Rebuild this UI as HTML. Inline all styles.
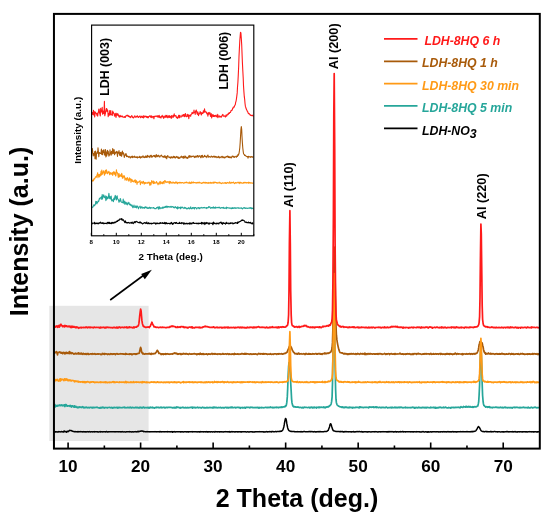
<!DOCTYPE html><html><head><meta charset="utf-8"><style>html,body{margin:0;padding:0;background:#fff;}svg{display:block;}text{font-family:"Liberation Sans",Arial,sans-serif;font-weight:bold;}</style></head><body>
<svg width="550" height="519" viewBox="0 0 550 519">
<rect x="49.3" y="305.8" width="99.3" height="135.2" fill="#E6E6E6"/>
<g clip-path="url(#cm)">
<polyline fill="none" stroke="#000000" stroke-width="1.5" stroke-linejoin="round" points="53.6,431.9 54.0,432.0 54.5,431.9 54.9,431.5 55.3,432.0 55.8,431.9 56.2,431.7 56.6,431.9 57.1,431.9 57.5,431.9 57.9,431.8 58.4,431.9 58.8,431.6 59.3,431.7 59.7,431.7 60.1,431.9 60.6,431.8 61.0,431.7 61.4,431.6 61.9,431.7 62.3,431.8 62.7,431.7 63.2,432.1 63.6,432.0 64.0,431.0 64.5,431.2 64.9,431.7 65.3,431.6 65.8,431.7 66.2,431.7 66.6,432.1 67.1,431.2 67.5,431.3 68.0,431.7 68.4,431.2 68.8,431.1 69.3,430.7 69.7,430.3 70.1,430.6 70.6,430.6 71.0,430.5 71.4,430.7 71.9,431.0 72.3,431.0 72.7,431.3 73.2,431.4 73.6,431.5 74.0,431.5 74.5,431.7 74.9,431.8 75.4,431.7 75.8,431.6 76.2,431.8 76.7,431.7 77.1,431.9 77.5,431.6 78.0,431.9 78.4,431.8 78.8,431.6 79.3,431.7 79.7,431.8 80.1,431.8 80.6,431.6 81.0,431.6 81.4,431.8 81.9,431.7 82.3,431.8 82.7,431.9 83.2,431.6 83.6,431.8 84.1,431.9 84.5,431.8 84.9,431.7 85.4,431.9 85.8,431.8 86.2,431.9 86.7,431.8 87.1,431.6 87.5,431.8 88.0,431.7 88.4,431.9 88.8,431.8 89.3,431.6 89.7,431.7 90.1,431.9 90.6,431.9 91.0,431.7 91.5,431.8 91.9,431.8 92.3,431.8 92.8,431.9 93.2,431.8 93.6,431.8 94.1,431.8 94.5,431.9 94.9,431.6 95.4,431.8 95.8,431.8 96.2,431.7 96.7,431.8 97.1,431.7 97.5,431.9 98.0,431.8 98.4,431.9 98.8,431.9 99.3,431.8 99.7,431.7 100.2,431.6 100.6,432.0 101.0,431.8 101.5,431.7 101.9,431.8 102.3,431.8 102.8,431.9 103.2,431.8 103.6,431.8 104.1,431.7 104.5,431.8 104.9,431.7 105.4,431.9 105.8,431.9 106.2,431.6 106.7,431.5 107.1,431.9 107.6,432.1 108.0,431.7 108.4,431.7 108.9,431.9 109.3,431.7 109.7,431.7 110.2,431.8 110.6,431.8 111.0,431.8 111.5,431.8 111.9,431.8 112.3,431.7 112.8,431.8 113.2,431.7 113.6,431.8 114.1,431.7 114.5,431.7 114.9,431.9 115.4,431.8 115.8,431.8 116.3,431.8 116.7,431.8 117.1,431.8 117.6,431.8 118.0,431.8 118.4,431.7 118.9,431.9 119.3,431.7 119.7,431.7 120.2,431.7 120.6,431.8 121.0,432.0 121.5,431.7 121.9,431.8 122.3,431.6 122.8,431.8 123.2,431.9 123.7,431.8 124.1,431.7 124.5,431.8 125.0,431.9 125.4,431.9 125.8,432.0 126.3,431.8 126.7,431.7 127.1,431.8 127.6,431.8 128.0,431.8 128.4,431.8 128.9,431.8 129.3,431.6 129.7,431.9 130.2,431.7 130.6,431.7 131.0,431.9 131.5,431.9 131.9,431.8 132.4,431.8 132.8,431.7 133.2,432.1 133.7,431.9 134.1,431.7 134.5,431.7 135.0,431.8 135.4,431.6 135.8,431.8 136.3,431.7 136.7,431.9 137.1,431.8 137.6,431.4 138.0,431.7 138.4,431.5 138.9,431.7 139.3,431.5 139.7,431.4 140.2,431.1 140.6,431.3 141.1,431.2 141.5,430.9 141.9,431.1 142.4,431.1 142.8,431.3 143.2,431.3 143.7,431.7 144.1,431.5 144.5,431.6 145.0,431.7 145.4,431.7 145.8,431.7 146.3,431.7 146.7,431.7 147.1,431.6 147.6,431.7 148.0,431.8 148.5,431.7 148.9,431.8 149.3,431.7 149.8,431.9 150.2,431.8 150.6,431.8 151.1,431.7 151.5,431.7 151.9,431.7 152.4,431.8 152.8,431.7 153.2,431.7 153.7,431.8 154.1,431.8 154.5,431.8 155.0,431.6 155.4,431.8 155.8,431.8 156.3,431.7 156.7,431.9 157.2,431.7 157.6,431.7 158.0,431.8 158.5,431.8 158.9,431.8 159.3,431.6 159.8,432.0 160.2,431.7 160.6,431.6 161.1,431.9 161.5,431.8 161.9,431.8 162.4,431.8 162.8,431.8 163.2,431.8 163.7,431.7 164.1,431.9 164.6,431.7 165.0,431.7 165.4,431.8 165.9,431.8 166.3,431.8 166.7,431.7 167.2,431.9 167.6,431.6 168.0,431.7 168.5,431.8 168.9,431.7 169.3,431.8 169.8,431.8 170.2,431.9 170.6,431.7 171.1,431.7 171.5,431.8 171.9,431.6 172.4,432.1 172.8,431.7 173.3,431.7 173.7,431.9 174.1,431.8 174.6,431.6 175.0,431.9 175.4,431.9 175.9,431.8 176.3,431.8 176.7,431.8 177.2,431.7 177.6,431.8 178.0,431.8 178.5,431.7 178.9,431.7 179.3,431.8 179.8,431.7 180.2,431.9 180.7,431.8 181.1,431.9 181.5,431.8 182.0,431.8 182.4,431.7 182.8,431.9 183.3,432.0 183.7,431.8 184.1,431.7 184.6,431.8 185.0,431.7 185.4,431.7 185.9,431.8 186.3,431.8 186.7,431.9 187.2,431.8 187.6,431.8 188.0,431.9 188.5,431.8 188.9,431.9 189.4,431.7 189.8,431.7 190.2,431.8 190.7,431.8 191.1,431.7 191.5,431.8 192.0,431.6 192.4,431.9 192.8,431.8 193.3,431.7 193.7,431.7 194.1,431.8 194.6,431.8 195.0,431.7 195.4,431.7 195.9,431.8 196.3,431.7 196.8,431.9 197.2,431.9 197.6,431.8 198.1,431.8 198.5,431.7 198.9,431.9 199.4,431.8 199.8,431.8 200.2,432.0 200.7,431.6 201.1,431.8 201.5,431.7 202.0,431.9 202.4,431.7 202.8,431.7 203.3,431.8 203.7,431.9 204.1,431.8 204.6,431.7 205.0,431.7 205.5,431.9 205.9,431.8 206.3,431.6 206.8,431.9 207.2,431.8 207.6,431.9 208.1,431.8 208.5,431.9 208.9,431.7 209.4,431.9 209.8,431.7 210.2,431.9 210.7,431.9 211.1,431.7 211.5,431.8 212.0,431.8 212.4,431.9 212.8,431.9 213.3,431.7 213.7,431.8 214.2,431.9 214.6,432.0 215.0,431.6 215.5,431.7 215.9,431.9 216.3,431.7 216.8,431.7 217.2,431.8 217.6,431.9 218.1,431.7 218.5,431.8 218.9,431.8 219.4,431.9 219.8,431.8 220.2,431.9 220.7,431.7 221.1,431.8 221.6,431.8 222.0,431.9 222.4,431.9 222.9,431.7 223.3,431.9 223.7,431.9 224.2,431.8 224.6,431.8 225.0,431.8 225.5,431.6 225.9,431.8 226.3,431.8 226.8,431.7 227.2,431.9 227.6,431.7 228.1,431.7 228.5,431.7 228.9,432.0 229.4,431.6 229.8,431.9 230.3,431.9 230.7,431.8 231.1,431.9 231.6,431.7 232.0,431.6 232.4,431.9 232.9,431.7 233.3,431.8 233.7,431.7 234.2,431.9 234.6,431.9 235.0,431.7 235.5,431.9 235.9,431.8 236.3,431.8 236.8,431.8 237.2,431.8 237.7,431.9 238.1,431.8 238.5,431.8 239.0,431.9 239.4,431.7 239.8,431.8 240.3,431.8 240.7,431.9 241.1,431.7 241.6,432.0 242.0,431.8 242.4,431.8 242.9,431.7 243.3,431.8 243.7,431.8 244.2,431.7 244.6,431.7 245.0,431.7 245.5,431.7 245.9,431.9 246.4,431.9 246.8,431.9 247.2,431.8 247.7,431.7 248.1,431.8 248.5,431.9 249.0,432.0 249.4,431.9 249.8,431.8 250.3,431.8 250.7,431.7 251.1,431.7 251.6,431.8 252.0,431.8 252.4,432.0 252.9,431.8 253.3,431.9 253.8,432.0 254.2,431.8 254.6,431.9 255.1,431.9 255.5,431.7 255.9,431.8 256.4,431.8 256.8,431.8 257.2,431.8 257.7,431.8 258.1,431.8 258.5,431.7 259.0,431.8 259.4,431.6 259.8,431.8 260.3,431.8 260.7,431.8 261.1,431.8 261.6,431.8 262.0,431.7 262.5,431.7 262.9,431.8 263.3,431.9 263.8,431.8 264.2,432.0 264.6,431.8 265.1,431.9 265.5,431.9 265.9,431.7 266.4,431.7 266.8,431.6 267.2,431.8 267.7,431.9 268.1,431.8 268.5,431.8 269.0,431.7 269.4,431.8 269.9,431.5 270.3,431.8 270.7,431.7 271.2,431.6 271.6,431.9 272.0,431.6 272.5,431.6 272.9,431.6 273.3,431.8 273.8,431.6 274.2,431.8 274.6,431.7 275.1,431.7 275.5,431.5 275.9,431.6 276.4,431.8 276.8,431.5 277.2,431.5 277.7,431.6 278.1,431.6 278.6,431.6 279.0,431.6 279.4,431.3 279.9,431.5 280.3,431.4 280.7,431.1 281.2,431.3 281.6,431.2 282.0,430.7 282.5,430.4 282.9,429.9 283.3,428.6 283.8,427.0 284.2,424.9 284.6,422.4 285.1,419.9 285.5,418.5 286.0,418.8 286.4,420.6 286.8,423.4 287.3,426.0 287.7,427.9 288.1,429.2 288.6,430.0 289.0,430.6 289.4,430.8 289.9,431.1 290.3,431.2 290.7,431.4 291.2,431.4 291.6,431.3 292.0,431.5 292.5,431.6 292.9,431.4 293.3,431.5 293.8,431.5 294.2,431.5 294.7,431.7 295.1,431.8 295.5,431.7 296.0,431.7 296.4,431.7 296.8,431.7 297.3,431.6 297.7,431.8 298.1,431.8 298.6,431.8 299.0,431.7 299.4,431.7 299.9,431.7 300.3,431.9 300.7,431.7 301.2,431.5 301.6,431.8 302.0,431.9 302.5,431.8 302.9,431.8 303.4,431.7 303.8,431.5 304.2,431.6 304.7,431.6 305.1,431.7 305.5,431.8 306.0,431.8 306.4,431.7 306.8,431.8 307.3,431.7 307.7,431.7 308.1,431.8 308.6,431.7 309.0,431.5 309.4,431.6 309.9,431.8 310.3,431.4 310.8,431.7 311.2,431.7 311.6,431.6 312.1,431.6 312.5,431.7 312.9,431.7 313.4,431.9 313.8,431.8 314.2,431.6 314.7,431.7 315.1,431.8 315.5,431.9 316.0,431.8 316.4,431.8 316.8,431.9 317.3,431.7 317.7,431.7 318.1,431.6 318.6,431.7 319.0,431.9 319.5,431.6 319.9,431.7 320.3,431.6 320.8,431.7 321.2,431.8 321.6,431.7 322.1,431.8 322.5,431.7 322.9,431.7 323.4,431.8 323.8,431.7 324.2,431.6 324.7,431.5 325.1,431.4 325.5,431.5 326.0,431.4 326.4,431.6 326.9,431.4 327.3,431.0 327.7,430.7 328.2,430.4 328.6,429.2 329.0,428.2 329.5,426.9 329.9,425.1 330.3,424.0 330.8,423.8 331.2,424.8 331.6,426.3 332.1,427.8 332.5,429.1 332.9,430.0 333.4,430.7 333.8,430.9 334.2,431.0 334.7,431.1 335.1,431.2 335.6,431.4 336.0,431.6 336.4,431.6 336.9,431.5 337.3,431.5 337.7,431.6 338.2,431.6 338.6,431.6 339.0,431.5 339.5,431.6 339.9,431.8 340.3,431.5 340.8,431.7 341.2,431.5 341.6,431.7 342.1,431.7 342.5,431.5 343.0,431.8 343.4,431.9 343.8,431.8 344.3,431.9 344.7,431.7 345.1,431.5 345.6,431.8 346.0,431.7 346.4,431.6 346.9,431.8 347.3,431.8 347.7,431.7 348.2,431.9 348.6,431.7 349.0,431.8 349.5,431.7 349.9,431.8 350.3,431.7 350.8,431.9 351.2,431.8 351.7,431.9 352.1,431.7 352.5,431.7 353.0,431.9 353.4,431.5 353.8,431.7 354.3,431.9 354.7,431.8 355.1,431.9 355.6,431.8 356.0,431.8 356.4,431.7 356.9,431.6 357.3,431.6 357.7,431.7 358.2,431.7 358.6,431.7 359.1,431.4 359.5,431.6 359.9,431.7 360.4,431.8 360.8,431.7 361.2,431.7 361.7,431.6 362.1,432.0 362.5,431.7 363.0,432.0 363.4,431.9 363.8,431.8 364.3,431.7 364.7,431.8 365.1,431.7 365.6,431.8 366.0,431.8 366.4,431.8 366.9,431.9 367.3,432.0 367.8,431.8 368.2,431.9 368.6,431.7 369.1,431.7 369.5,431.7 369.9,431.7 370.4,431.9 370.8,431.9 371.2,431.9 371.7,431.8 372.1,431.8 372.5,431.7 373.0,431.7 373.4,431.8 373.8,431.8 374.3,431.7 374.7,431.9 375.1,431.6 375.6,431.8 376.0,431.7 376.5,431.7 376.9,431.7 377.3,431.9 377.8,431.9 378.2,431.9 378.6,431.8 379.1,431.7 379.5,431.8 379.9,431.7 380.4,431.8 380.8,431.9 381.2,431.8 381.7,431.7 382.1,431.8 382.5,431.8 383.0,431.6 383.4,431.8 383.9,431.8 384.3,431.7 384.7,431.8 385.2,431.8 385.6,431.7 386.0,431.7 386.5,431.9 386.9,431.8 387.3,432.0 387.8,431.7 388.2,431.6 388.6,431.9 389.1,431.9 389.5,431.7 389.9,431.6 390.4,431.8 390.8,431.6 391.2,431.8 391.7,431.6 392.1,431.8 392.6,431.6 393.0,431.8 393.4,431.9 393.9,431.8 394.3,431.9 394.7,431.7 395.2,431.7 395.6,431.6 396.0,431.9 396.5,431.8 396.9,432.0 397.3,431.7 397.8,431.8 398.2,431.8 398.6,431.9 399.1,432.0 399.5,431.7 400.0,431.7 400.4,431.6 400.8,431.9 401.3,431.8 401.7,431.7 402.1,431.8 402.6,431.5 403.0,431.6 403.4,431.9 403.9,431.8 404.3,431.8 404.7,431.7 405.2,431.8 405.6,432.0 406.0,431.7 406.5,431.8 406.9,431.7 407.3,431.8 407.8,431.8 408.2,431.8 408.7,431.7 409.1,431.8 409.5,431.7 410.0,431.8 410.4,431.8 410.8,431.9 411.3,431.7 411.7,431.8 412.1,431.9 412.6,431.8 413.0,431.8 413.4,431.9 413.9,431.8 414.3,431.8 414.7,431.8 415.2,431.7 415.6,431.8 416.1,431.9 416.5,431.8 416.9,431.6 417.4,431.8 417.8,431.7 418.2,431.8 418.7,431.8 419.1,431.7 419.5,431.9 420.0,431.8 420.4,431.9 420.8,431.9 421.3,431.9 421.7,431.9 422.1,431.6 422.6,431.8 423.0,431.6 423.4,431.7 423.9,431.9 424.3,431.9 424.8,431.9 425.2,431.8 425.6,431.8 426.1,431.8 426.5,431.9 426.9,432.0 427.4,431.8 427.8,432.2 428.2,431.8 428.7,431.8 429.1,431.9 429.5,431.9 430.0,431.8 430.4,431.7 430.8,431.9 431.3,431.8 431.7,431.9 432.2,431.9 432.6,431.7 433.0,431.7 433.5,431.7 433.9,431.8 434.3,431.8 434.8,431.8 435.2,431.7 435.6,431.8 436.1,431.9 436.5,431.7 436.9,431.8 437.4,431.8 437.8,431.8 438.2,431.8 438.7,432.0 439.1,431.9 439.5,431.9 440.0,431.7 440.4,432.0 440.9,431.8 441.3,431.7 441.7,431.8 442.2,431.7 442.6,432.0 443.0,431.8 443.5,431.8 443.9,431.6 444.3,431.9 444.8,431.7 445.2,431.7 445.6,431.9 446.1,431.7 446.5,431.9 446.9,431.9 447.4,431.6 447.8,431.8 448.2,431.6 448.7,431.8 449.1,431.9 449.6,431.7 450.0,432.0 450.4,431.8 450.9,431.7 451.3,431.8 451.7,431.9 452.2,431.6 452.6,431.8 453.0,431.6 453.5,431.9 453.9,431.8 454.3,431.7 454.8,431.9 455.2,431.7 455.6,431.7 456.1,432.0 456.5,431.8 457.0,431.9 457.4,431.8 457.8,431.7 458.3,431.8 458.7,431.8 459.1,431.7 459.6,431.7 460.0,431.7 460.4,431.6 460.9,431.8 461.3,431.8 461.7,431.8 462.2,431.6 462.6,431.8 463.0,431.8 463.5,431.6 463.9,431.8 464.3,431.8 464.8,431.8 465.2,431.8 465.7,431.8 466.1,431.8 466.5,431.7 467.0,431.5 467.4,431.7 467.8,431.8 468.3,431.7 468.7,431.8 469.1,431.8 469.6,431.7 470.0,431.9 470.4,431.6 470.9,431.8 471.3,431.6 471.7,431.6 472.2,431.7 472.6,431.5 473.1,431.7 473.5,431.4 473.9,431.5 474.4,431.3 474.8,431.3 475.2,431.1 475.7,430.8 476.1,430.5 476.5,429.7 477.0,429.0 477.4,428.3 477.8,427.4 478.3,426.7 478.7,426.6 479.1,427.2 479.6,427.7 480.0,428.7 480.4,429.5 480.9,430.4 481.3,430.8 481.8,431.2 482.2,431.4 482.6,431.4 483.1,431.4 483.5,431.4 483.9,431.8 484.4,431.7 484.8,431.7 485.2,431.6 485.7,431.6 486.1,431.6 486.5,431.7 487.0,431.5 487.4,431.7 487.8,431.7 488.3,431.8 488.7,431.8 489.2,431.8 489.6,431.7 490.0,431.8 490.5,431.5 490.9,431.6 491.3,431.9 491.8,431.6 492.2,431.7 492.6,431.8 493.1,431.7 493.5,431.8 493.9,431.6 494.4,431.6 494.8,431.6 495.2,431.6 495.7,431.8 496.1,431.7 496.5,431.8 497.0,431.7 497.4,432.0 497.9,431.8 498.3,431.8 498.7,431.8 499.2,431.8 499.6,431.7 500.0,431.8 500.5,431.9 500.9,431.9 501.3,431.9 501.8,431.7 502.2,431.7 502.6,432.0 503.1,431.8 503.5,431.8 503.9,431.9 504.4,431.9 504.8,431.7 505.3,431.7 505.7,431.7 506.1,431.8 506.6,431.5 507.0,431.8 507.4,431.5 507.9,431.8 508.3,431.8 508.7,431.9 509.2,431.7 509.6,431.9 510.0,431.7 510.5,431.7 510.9,431.7 511.3,431.7 511.8,431.8 512.2,431.9 512.6,431.6 513.1,431.7 513.5,431.9 514.0,431.8 514.4,431.8 514.8,431.6 515.3,431.9 515.7,431.6 516.1,431.8 516.6,431.9 517.0,432.0 517.4,431.8 517.9,431.9 518.3,431.7 518.7,431.7 519.2,431.9 519.6,431.8 520.0,431.8 520.5,431.7 520.9,431.8 521.4,431.9 521.8,431.7 522.2,431.7 522.7,432.0 523.1,431.8 523.5,431.8 524.0,431.7 524.4,431.7 524.8,431.8 525.3,431.9 525.7,431.7 526.1,432.0 526.6,431.7 527.0,431.8 527.4,431.9 527.9,431.8 528.3,431.7 528.7,431.8 529.2,431.8 529.6,431.6 530.1,431.8 530.5,431.8 530.9,431.8 531.4,431.9 531.8,431.7 532.2,431.8 532.7,431.8 533.1,431.9 533.5,431.8 534.0,431.9 534.4,431.7 534.8,431.9 535.3,431.7 535.7,431.8 536.1,431.8 536.6,432.0 537.0,431.9 537.4,431.8 537.9,431.9 538.3,431.8 538.8,431.7 539.2,431.8"/>
<polyline fill="none" stroke="#26A69A" stroke-width="1.7" stroke-linejoin="round" points="53.6,406.2 54.0,405.8 54.5,405.8 54.9,404.6 55.3,406.8 55.8,406.4 56.2,405.6 56.6,406.1 57.1,405.8 57.5,405.3 57.9,406.1 58.4,405.3 58.8,405.3 59.3,405.0 59.7,405.6 60.1,405.3 60.6,405.6 61.0,405.0 61.4,405.4 61.9,404.8 62.3,405.8 62.7,405.4 63.2,405.5 63.6,405.6 64.0,404.8 64.5,405.8 64.9,406.5 65.3,404.5 65.8,404.5 66.2,404.7 66.6,406.0 67.1,405.6 67.5,406.2 68.0,406.0 68.4,405.8 68.8,405.9 69.3,405.8 69.7,406.3 70.1,405.4 70.6,405.8 71.0,406.2 71.4,407.0 71.9,405.9 72.3,405.8 72.7,406.1 73.2,406.8 73.6,406.4 74.0,407.1 74.5,405.9 74.9,407.1 75.4,407.1 75.8,406.3 76.2,406.9 76.7,407.3 77.1,407.0 77.5,407.3 78.0,407.8 78.4,407.2 78.8,407.0 79.3,406.9 79.7,407.4 80.1,407.2 80.6,407.2 81.0,407.2 81.4,407.5 81.9,407.0 82.3,406.9 82.7,406.7 83.2,407.7 83.6,407.4 84.1,407.8 84.5,407.5 84.9,407.3 85.4,407.6 85.8,407.5 86.2,407.2 86.7,407.3 87.1,407.9 87.5,407.6 88.0,407.6 88.4,407.5 88.8,407.4 89.3,407.8 89.7,407.5 90.1,407.4 90.6,407.5 91.0,407.4 91.5,407.6 91.9,407.8 92.3,407.4 92.8,407.9 93.2,407.4 93.6,407.6 94.1,407.4 94.5,407.5 94.9,407.6 95.4,407.5 95.8,407.4 96.2,407.4 96.7,407.4 97.1,407.2 97.5,407.5 98.0,407.7 98.4,407.8 98.8,407.7 99.3,408.1 99.7,407.7 100.2,407.5 100.6,408.0 101.0,407.4 101.5,407.8 101.9,407.4 102.3,407.7 102.8,407.2 103.2,407.8 103.6,407.6 104.1,407.4 104.5,408.0 104.9,407.8 105.4,407.6 105.8,407.4 106.2,407.6 106.7,407.6 107.1,407.8 107.6,407.8 108.0,407.5 108.4,407.5 108.9,407.5 109.3,407.3 109.7,407.5 110.2,407.6 110.6,407.8 111.0,407.9 111.5,407.4 111.9,407.7 112.3,407.5 112.8,408.1 113.2,407.6 113.6,407.7 114.1,407.4 114.5,407.4 114.9,407.6 115.4,407.5 115.8,407.7 116.3,407.3 116.7,407.7 117.1,407.4 117.6,408.0 118.0,407.5 118.4,407.8 118.9,407.3 119.3,407.7 119.7,407.4 120.2,407.5 120.6,407.6 121.0,407.5 121.5,407.7 121.9,407.8 122.3,407.7 122.8,407.6 123.2,407.3 123.7,407.4 124.1,407.6 124.5,407.1 125.0,407.8 125.4,407.5 125.8,407.5 126.3,407.8 126.7,407.7 127.1,407.6 127.6,407.4 128.0,407.7 128.4,407.7 128.9,407.4 129.3,407.8 129.7,407.7 130.2,407.2 130.6,407.6 131.0,407.3 131.5,407.8 131.9,407.8 132.4,407.4 132.8,407.4 133.2,407.6 133.7,407.5 134.1,407.9 134.5,407.8 135.0,407.5 135.4,407.7 135.8,407.2 136.3,407.7 136.7,407.8 137.1,407.6 137.6,407.4 138.0,407.7 138.4,408.0 138.9,407.6 139.3,407.4 139.7,407.9 140.2,407.2 140.6,407.7 141.1,407.5 141.5,407.8 141.9,407.4 142.4,407.9 142.8,407.7 143.2,407.2 143.7,407.2 144.1,407.5 144.5,407.9 145.0,407.6 145.4,407.6 145.8,407.5 146.3,407.8 146.7,407.7 147.1,407.7 147.6,407.4 148.0,407.9 148.5,407.9 148.9,407.3 149.3,408.1 149.8,407.8 150.2,407.5 150.6,407.2 151.1,407.7 151.5,407.7 151.9,407.5 152.4,407.2 152.8,407.8 153.2,407.5 153.7,407.5 154.1,408.2 154.5,408.1 155.0,407.8 155.4,407.5 155.8,407.7 156.3,407.1 156.7,407.6 157.2,407.4 157.6,407.3 158.0,407.2 158.5,407.7 158.9,407.6 159.3,407.6 159.8,407.8 160.2,407.4 160.6,407.3 161.1,407.2 161.5,407.5 161.9,407.8 162.4,407.6 162.8,407.7 163.2,407.3 163.7,407.5 164.1,407.4 164.6,407.3 165.0,408.0 165.4,407.8 165.9,407.4 166.3,407.4 166.7,407.6 167.2,407.3 167.6,407.7 168.0,407.3 168.5,407.5 168.9,407.4 169.3,407.5 169.8,407.3 170.2,407.3 170.6,407.4 171.1,407.4 171.5,407.5 171.9,407.6 172.4,407.9 172.8,407.8 173.3,407.5 173.7,407.8 174.1,407.4 174.6,407.9 175.0,407.7 175.4,407.3 175.9,407.8 176.3,407.8 176.7,407.0 177.2,407.4 177.6,407.5 178.0,407.2 178.5,407.4 178.9,407.4 179.3,407.7 179.8,407.7 180.2,408.2 180.7,407.5 181.1,407.8 181.5,407.6 182.0,407.7 182.4,407.3 182.8,407.2 183.3,407.4 183.7,407.8 184.1,407.9 184.6,407.7 185.0,407.7 185.4,407.4 185.9,407.9 186.3,407.9 186.7,407.5 187.2,407.6 187.6,407.4 188.0,407.9 188.5,407.7 188.9,407.6 189.4,407.7 189.8,407.7 190.2,407.5 190.7,407.3 191.1,407.3 191.5,407.2 192.0,407.7 192.4,408.1 192.8,407.2 193.3,407.6 193.7,407.7 194.1,407.4 194.6,407.6 195.0,407.4 195.4,407.9 195.9,407.5 196.3,407.6 196.8,407.7 197.2,407.5 197.6,407.2 198.1,407.5 198.5,407.8 198.9,407.6 199.4,407.6 199.8,407.4 200.2,407.6 200.7,407.8 201.1,407.6 201.5,408.0 202.0,407.5 202.4,407.4 202.8,407.2 203.3,407.8 203.7,407.6 204.1,407.8 204.6,407.7 205.0,408.0 205.5,407.9 205.9,407.5 206.3,407.7 206.8,407.8 207.2,407.3 207.6,407.9 208.1,407.9 208.5,407.8 208.9,407.5 209.4,407.7 209.8,407.3 210.2,407.6 210.7,407.5 211.1,407.6 211.5,407.5 212.0,407.7 212.4,407.9 212.8,407.3 213.3,407.8 213.7,407.2 214.2,407.1 214.6,407.6 215.0,407.6 215.5,407.7 215.9,407.2 216.3,407.6 216.8,407.6 217.2,407.9 217.6,407.6 218.1,407.7 218.5,407.4 218.9,407.6 219.4,407.5 219.8,407.7 220.2,407.4 220.7,407.4 221.1,407.7 221.6,408.0 222.0,407.7 222.4,407.7 222.9,407.5 223.3,407.8 223.7,407.7 224.2,408.0 224.6,407.7 225.0,407.4 225.5,407.5 225.9,407.4 226.3,407.3 226.8,407.9 227.2,407.8 227.6,407.3 228.1,408.0 228.5,407.6 228.9,407.4 229.4,407.7 229.8,407.6 230.3,407.4 230.7,407.2 231.1,407.6 231.6,407.7 232.0,407.0 232.4,407.7 232.9,407.7 233.3,407.5 233.7,407.6 234.2,407.5 234.6,407.4 235.0,407.5 235.5,407.9 235.9,407.3 236.3,407.6 236.8,407.6 237.2,407.4 237.7,407.5 238.1,407.3 238.5,407.4 239.0,407.6 239.4,407.7 239.8,407.4 240.3,408.3 240.7,407.5 241.1,407.6 241.6,407.5 242.0,407.5 242.4,407.9 242.9,407.5 243.3,407.9 243.7,407.8 244.2,407.4 244.6,407.8 245.0,407.4 245.5,408.2 245.9,407.5 246.4,407.4 246.8,407.2 247.2,407.3 247.7,407.5 248.1,407.4 248.5,407.3 249.0,407.4 249.4,407.5 249.8,407.9 250.3,407.2 250.7,407.5 251.1,407.4 251.6,407.2 252.0,407.3 252.4,407.4 252.9,407.7 253.3,407.5 253.8,407.5 254.2,407.7 254.6,407.6 255.1,407.5 255.5,407.7 255.9,407.4 256.4,407.7 256.8,407.7 257.2,407.5 257.7,407.3 258.1,407.9 258.5,407.6 259.0,408.2 259.4,407.4 259.8,407.8 260.3,407.5 260.7,407.6 261.1,407.8 261.6,407.4 262.0,407.5 262.5,407.6 262.9,407.6 263.3,407.7 263.8,407.8 264.2,407.7 264.6,407.6 265.1,407.5 265.5,407.3 265.9,407.4 266.4,407.4 266.8,407.7 267.2,407.5 267.7,407.3 268.1,407.7 268.5,407.4 269.0,407.4 269.4,407.5 269.9,407.6 270.3,407.0 270.7,407.3 271.2,407.6 271.6,407.4 272.0,407.3 272.5,407.4 272.9,407.8 273.3,407.4 273.8,407.7 274.2,407.7 274.6,407.4 275.1,407.6 275.5,407.4 275.9,407.3 276.4,407.2 276.8,407.7 277.2,407.4 277.7,407.3 278.1,407.2 278.6,407.8 279.0,407.6 279.4,407.4 279.9,407.2 280.3,407.0 280.7,407.4 281.2,407.4 281.6,406.9 282.0,407.5 282.5,407.3 282.9,406.9 283.3,406.9 283.8,406.9 284.2,406.9 284.6,406.7 285.1,406.1 285.5,406.5 286.0,405.8 286.4,404.9 286.8,402.4 287.3,396.9 287.7,388.2 288.1,376.7 288.6,366.6 289.0,362.6 289.4,364.0 289.9,367.4 290.3,373.2 290.7,382.5 291.2,391.6 291.6,399.1 292.0,402.9 292.5,404.9 292.9,405.9 293.3,406.4 293.8,407.0 294.2,406.8 294.7,406.6 295.1,407.0 295.5,406.9 296.0,407.2 296.4,407.0 296.8,407.1 297.3,407.1 297.7,407.2 298.1,406.9 298.6,407.2 299.0,407.4 299.4,407.6 299.9,407.3 300.3,407.3 300.7,407.5 301.2,407.5 301.6,407.8 302.0,407.6 302.5,407.4 302.9,407.8 303.4,407.8 303.8,407.4 304.2,407.5 304.7,407.1 305.1,407.4 305.5,407.3 306.0,407.4 306.4,407.4 306.8,407.5 307.3,407.5 307.7,407.6 308.1,407.5 308.6,407.4 309.0,407.2 309.4,407.8 309.9,407.8 310.3,407.4 310.8,407.6 311.2,407.2 311.6,407.2 312.1,407.4 312.5,407.8 312.9,407.3 313.4,407.3 313.8,407.8 314.2,407.1 314.7,407.6 315.1,407.6 315.5,407.4 316.0,407.5 316.4,408.0 316.8,407.2 317.3,407.4 317.7,407.4 318.1,407.3 318.6,407.1 319.0,407.8 319.5,407.5 319.9,407.0 320.3,407.3 320.8,407.5 321.2,407.5 321.6,407.1 322.1,407.3 322.5,407.4 322.9,407.4 323.4,407.4 323.8,406.9 324.2,407.7 324.7,407.3 325.1,407.6 325.5,407.8 326.0,407.1 326.4,406.8 326.9,407.2 327.3,406.9 327.7,406.7 328.2,406.5 328.6,406.9 329.0,406.3 329.5,405.8 329.9,405.7 330.3,405.1 330.8,404.8 331.2,403.7 331.6,401.7 332.1,396.9 332.5,382.9 332.9,353.8 333.4,310.4 333.8,275.4 334.2,283.5 334.7,325.3 335.1,365.6 335.6,389.1 336.0,399.2 336.4,402.7 336.9,404.3 337.3,405.1 337.7,405.4 338.2,405.8 338.6,406.2 339.0,406.3 339.5,406.6 339.9,406.8 340.3,406.8 340.8,406.8 341.2,406.8 341.6,407.4 342.1,407.3 342.5,406.9 343.0,407.0 343.4,407.6 343.8,407.6 344.3,407.3 344.7,407.6 345.1,407.0 345.6,407.3 346.0,407.5 346.4,407.0 346.9,407.2 347.3,407.6 347.7,407.7 348.2,407.3 348.6,407.5 349.0,407.8 349.5,407.3 349.9,407.1 350.3,407.4 350.8,407.4 351.2,407.7 351.7,407.5 352.1,407.3 352.5,408.0 353.0,407.3 353.4,407.6 353.8,407.6 354.3,407.6 354.7,407.5 355.1,407.6 355.6,407.4 356.0,407.1 356.4,407.4 356.9,407.4 357.3,407.4 357.7,407.5 358.2,407.3 358.6,407.7 359.1,407.8 359.5,406.9 359.9,407.4 360.4,407.3 360.8,406.8 361.2,407.5 361.7,407.3 362.1,407.3 362.5,407.3 363.0,407.6 363.4,407.7 363.8,407.4 364.3,407.5 364.7,407.3 365.1,407.4 365.6,407.2 366.0,407.3 366.4,407.2 366.9,407.4 367.3,407.5 367.8,407.4 368.2,407.6 368.6,407.9 369.1,406.8 369.5,407.3 369.9,407.2 370.4,407.2 370.8,407.0 371.2,407.3 371.7,407.2 372.1,407.1 372.5,407.2 373.0,407.1 373.4,406.8 373.8,407.5 374.3,407.2 374.7,407.1 375.1,407.4 375.6,407.1 376.0,406.8 376.5,407.5 376.9,406.9 377.3,407.3 377.8,407.4 378.2,407.6 378.6,407.6 379.1,407.4 379.5,407.2 379.9,407.3 380.4,407.6 380.8,407.8 381.2,407.5 381.7,407.3 382.1,407.6 382.5,407.3 383.0,407.3 383.4,407.4 383.9,407.6 384.3,407.5 384.7,407.7 385.2,407.7 385.6,407.6 386.0,407.0 386.5,407.1 386.9,407.5 387.3,407.5 387.8,408.0 388.2,407.5 388.6,407.5 389.1,407.7 389.5,407.7 389.9,407.5 390.4,407.6 390.8,407.3 391.2,407.3 391.7,407.8 392.1,407.2 392.6,407.7 393.0,407.7 393.4,407.7 393.9,407.7 394.3,407.7 394.7,407.1 395.2,407.3 395.6,407.4 396.0,407.8 396.5,407.3 396.9,407.4 397.3,407.5 397.8,407.8 398.2,407.2 398.6,407.3 399.1,407.7 399.5,407.1 400.0,407.6 400.4,407.5 400.8,407.2 401.3,407.5 401.7,407.3 402.1,407.6 402.6,407.6 403.0,407.9 403.4,407.6 403.9,407.6 404.3,407.4 404.7,407.6 405.2,407.8 405.6,407.1 406.0,407.7 406.5,407.5 406.9,407.6 407.3,407.6 407.8,407.8 408.2,407.6 408.7,407.5 409.1,407.6 409.5,407.6 410.0,407.5 410.4,407.6 410.8,407.8 411.3,407.6 411.7,407.6 412.1,407.3 412.6,407.5 413.0,407.2 413.4,407.7 413.9,407.4 414.3,407.9 414.7,408.2 415.2,407.5 415.6,407.9 416.1,407.7 416.5,407.5 416.9,407.4 417.4,407.7 417.8,407.9 418.2,407.7 418.7,407.2 419.1,407.3 419.5,407.5 420.0,407.9 420.4,407.6 420.8,407.7 421.3,407.8 421.7,407.5 422.1,407.6 422.6,407.5 423.0,407.2 423.4,407.7 423.9,407.7 424.3,407.8 424.8,407.3 425.2,407.4 425.6,407.8 426.1,407.6 426.5,407.9 426.9,407.4 427.4,407.6 427.8,407.4 428.2,407.6 428.7,407.5 429.1,407.7 429.5,407.8 430.0,407.7 430.4,407.2 430.8,407.8 431.3,407.7 431.7,407.3 432.2,407.4 432.6,407.6 433.0,407.7 433.5,407.5 433.9,407.2 434.3,407.6 434.8,407.6 435.2,408.1 435.6,407.3 436.1,408.1 436.5,408.0 436.9,407.6 437.4,407.9 437.8,407.6 438.2,407.8 438.7,407.4 439.1,407.6 439.5,407.3 440.0,407.2 440.4,407.5 440.9,407.4 441.3,407.7 441.7,407.8 442.2,407.5 442.6,407.6 443.0,407.6 443.5,407.2 443.9,407.6 444.3,407.6 444.8,407.6 445.2,407.3 445.6,407.1 446.1,407.5 446.5,407.6 446.9,407.9 447.4,407.8 447.8,407.9 448.2,407.6 448.7,407.8 449.1,407.5 449.6,407.7 450.0,407.8 450.4,408.1 450.9,407.6 451.3,407.3 451.7,407.8 452.2,407.4 452.6,407.5 453.0,407.5 453.5,407.3 453.9,407.8 454.3,407.7 454.8,407.4 455.2,407.5 455.6,407.4 456.1,407.6 456.5,407.4 457.0,407.3 457.4,407.3 457.8,407.4 458.3,407.5 458.7,407.2 459.1,407.4 459.6,407.5 460.0,407.9 460.4,407.5 460.9,406.6 461.3,407.2 461.7,407.1 462.2,407.3 462.6,407.5 463.0,407.2 463.5,406.5 463.9,407.0 464.3,406.9 464.8,406.9 465.2,407.1 465.7,406.5 466.1,407.0 466.5,406.3 467.0,406.7 467.4,406.8 467.8,407.2 468.3,406.6 468.7,406.4 469.1,406.9 469.6,406.7 470.0,407.2 470.4,406.7 470.9,406.7 471.3,407.2 471.7,407.0 472.2,407.2 472.6,406.7 473.1,407.4 473.5,406.9 473.9,407.2 474.4,406.7 474.8,406.6 475.2,406.8 475.7,406.8 476.1,407.0 476.5,406.5 477.0,406.4 477.4,406.0 477.8,406.0 478.3,403.9 478.7,401.6 479.1,395.3 479.6,384.8 480.0,369.5 480.4,354.7 480.9,347.3 481.3,354.2 481.8,369.6 482.2,384.5 482.6,395.5 483.1,401.5 483.5,404.0 483.9,405.5 484.4,405.8 484.8,406.3 485.2,406.5 485.7,407.1 486.1,406.8 486.5,406.7 487.0,406.8 487.4,407.4 487.8,406.8 488.3,407.1 488.7,407.2 489.2,406.7 489.6,407.2 490.0,407.6 490.5,407.4 490.9,407.2 491.3,407.5 491.8,407.5 492.2,407.9 492.6,407.3 493.1,407.4 493.5,407.5 493.9,407.4 494.4,407.5 494.8,407.5 495.2,407.3 495.7,407.1 496.1,407.4 496.5,407.2 497.0,407.3 497.4,407.4 497.9,407.6 498.3,407.7 498.7,407.3 499.2,407.6 499.6,407.7 500.0,407.5 500.5,407.2 500.9,407.1 501.3,407.7 501.8,407.7 502.2,407.6 502.6,407.3 503.1,407.9 503.5,407.8 503.9,407.5 504.4,407.5 504.8,407.1 505.3,407.7 505.7,407.2 506.1,407.7 506.6,407.7 507.0,407.6 507.4,407.9 507.9,407.5 508.3,407.7 508.7,407.7 509.2,407.6 509.6,407.5 510.0,407.8 510.5,407.7 510.9,407.5 511.3,407.5 511.8,407.6 512.2,408.1 512.6,407.6 513.1,407.5 513.5,407.3 514.0,407.3 514.4,407.2 514.8,407.6 515.3,407.6 515.7,407.3 516.1,407.2 516.6,407.5 517.0,407.5 517.4,407.3 517.9,407.6 518.3,407.6 518.7,407.6 519.2,407.7 519.6,407.4 520.0,407.9 520.5,407.4 520.9,407.7 521.4,407.7 521.8,407.5 522.2,407.7 522.7,407.3 523.1,407.2 523.5,407.5 524.0,407.4 524.4,407.7 524.8,407.6 525.3,407.7 525.7,407.6 526.1,407.6 526.6,407.6 527.0,407.5 527.4,407.5 527.9,408.0 528.3,407.2 528.7,407.5 529.2,407.8 529.6,407.7 530.1,407.9 530.5,407.7 530.9,407.3 531.4,407.5 531.8,407.3 532.2,407.8 532.7,407.9 533.1,407.5 533.5,407.7 534.0,407.5 534.4,407.3 534.8,407.5 535.3,407.2 535.7,407.5 536.1,407.6 536.6,407.7 537.0,407.9 537.4,407.5 537.9,407.6 538.3,407.7 538.8,407.7 539.2,407.0"/>
<polyline fill="none" stroke="#A85A0A" stroke-width="1.7" stroke-linejoin="round" points="53.6,354.1 54.0,351.4 54.5,353.1 54.9,352.5 55.3,352.5 55.8,352.7 56.2,351.5 56.6,352.6 57.1,352.2 57.5,354.8 57.9,352.8 58.4,352.4 58.8,352.4 59.3,352.2 59.7,351.9 60.1,352.3 60.6,352.9 61.0,352.4 61.4,353.2 61.9,352.5 62.3,352.6 62.7,353.6 63.2,353.0 63.6,352.3 64.0,352.6 64.5,353.0 64.9,353.9 65.3,352.6 65.8,352.6 66.2,353.4 66.6,352.3 67.1,352.7 67.5,353.4 68.0,353.3 68.4,353.0 68.8,353.4 69.3,351.5 69.7,353.6 70.1,352.6 70.6,352.3 71.0,353.4 71.4,353.6 71.9,353.1 72.3,352.8 72.7,353.4 73.2,353.4 73.6,354.1 74.0,353.8 74.5,353.6 74.9,354.0 75.4,353.5 75.8,353.2 76.2,353.9 76.7,353.9 77.1,353.6 77.5,353.4 78.0,353.8 78.4,352.9 78.8,354.0 79.3,354.0 79.7,353.3 80.1,353.8 80.6,353.5 81.0,354.1 81.4,353.2 81.9,353.6 82.3,354.1 82.7,354.3 83.2,353.3 83.6,353.8 84.1,354.0 84.5,353.8 84.9,354.4 85.4,353.6 85.8,354.1 86.2,353.7 86.7,354.4 87.1,354.0 87.5,353.9 88.0,353.5 88.4,354.4 88.8,354.2 89.3,354.2 89.7,354.3 90.1,354.1 90.6,353.8 91.0,353.8 91.5,353.8 91.9,354.3 92.3,353.6 92.8,353.8 93.2,353.9 93.6,354.1 94.1,354.1 94.5,353.7 94.9,353.6 95.4,354.0 95.8,354.3 96.2,354.2 96.7,354.1 97.1,353.9 97.5,354.1 98.0,353.9 98.4,354.2 98.8,353.8 99.3,354.0 99.7,354.0 100.2,354.1 100.6,354.1 101.0,354.6 101.5,354.4 101.9,354.4 102.3,353.5 102.8,353.9 103.2,353.8 103.6,354.1 104.1,353.4 104.5,354.3 104.9,354.3 105.4,353.7 105.8,353.8 106.2,353.8 106.7,354.0 107.1,354.2 107.6,354.5 108.0,353.9 108.4,354.2 108.9,354.0 109.3,354.4 109.7,354.2 110.2,354.3 110.6,353.7 111.0,353.9 111.5,353.8 111.9,354.4 112.3,354.2 112.8,353.9 113.2,353.9 113.6,354.1 114.1,353.8 114.5,353.8 114.9,354.1 115.4,354.6 115.8,353.9 116.3,353.9 116.7,353.7 117.1,353.7 117.6,354.1 118.0,354.2 118.4,354.0 118.9,354.1 119.3,354.0 119.7,354.0 120.2,353.6 120.6,353.9 121.0,354.0 121.5,353.8 121.9,353.9 122.3,353.8 122.8,353.9 123.2,354.2 123.7,353.9 124.1,354.0 124.5,354.2 125.0,354.2 125.4,354.4 125.8,353.5 126.3,354.2 126.7,353.9 127.1,354.0 127.6,354.2 128.0,354.3 128.4,354.2 128.9,354.0 129.3,354.4 129.7,353.9 130.2,353.9 130.6,354.2 131.0,353.8 131.5,354.5 131.9,354.2 132.4,354.5 132.8,354.0 133.2,353.9 133.7,354.0 134.1,354.1 134.5,353.8 135.0,354.0 135.4,353.9 135.8,354.3 136.3,353.8 136.7,354.2 137.1,353.7 137.6,353.6 138.0,353.6 138.4,353.4 138.9,353.5 139.3,353.1 139.7,351.3 140.2,348.8 140.6,347.4 141.1,348.7 141.5,351.3 141.9,352.8 142.4,353.1 142.8,353.9 143.2,353.3 143.7,354.0 144.1,353.9 144.5,354.2 145.0,353.9 145.4,353.7 145.8,354.0 146.3,353.8 146.7,353.9 147.1,354.0 147.6,353.9 148.0,353.9 148.5,353.7 148.9,353.9 149.3,353.4 149.8,353.9 150.2,353.6 150.6,354.2 151.1,354.3 151.5,353.4 151.9,354.0 152.4,353.9 152.8,353.6 153.2,354.0 153.7,353.8 154.1,353.4 154.5,353.7 155.0,353.6 155.4,353.4 155.8,352.6 156.3,352.2 156.7,351.4 157.2,350.3 157.6,350.5 158.0,351.5 158.5,352.2 158.9,353.5 159.3,353.5 159.8,353.4 160.2,353.6 160.6,353.8 161.1,354.5 161.5,353.9 161.9,353.9 162.4,354.1 162.8,353.9 163.2,354.5 163.7,353.8 164.1,354.1 164.6,354.0 165.0,354.1 165.4,353.7 165.9,354.4 166.3,353.9 166.7,354.0 167.2,353.7 167.6,353.8 168.0,354.1 168.5,354.2 168.9,354.1 169.3,354.3 169.8,354.1 170.2,353.9 170.6,354.1 171.1,354.1 171.5,353.9 171.9,354.0 172.4,354.1 172.8,353.7 173.3,353.4 173.7,353.5 174.1,353.6 174.6,352.9 175.0,353.0 175.4,353.1 175.9,353.7 176.3,353.1 176.7,353.8 177.2,354.1 177.6,353.7 178.0,354.3 178.5,354.1 178.9,353.8 179.3,354.0 179.8,353.6 180.2,353.8 180.7,354.4 181.1,353.7 181.5,354.4 182.0,354.0 182.4,354.2 182.8,354.0 183.3,353.4 183.7,353.8 184.1,354.0 184.6,353.7 185.0,353.6 185.4,354.1 185.9,353.8 186.3,353.6 186.7,353.8 187.2,354.2 187.6,353.9 188.0,354.2 188.5,354.4 188.9,354.0 189.4,353.7 189.8,353.7 190.2,354.0 190.7,354.2 191.1,354.1 191.5,354.1 192.0,353.9 192.4,354.1 192.8,353.9 193.3,353.9 193.7,353.7 194.1,353.6 194.6,353.9 195.0,353.7 195.4,353.8 195.9,354.2 196.3,354.0 196.8,354.7 197.2,354.2 197.6,353.8 198.1,354.2 198.5,354.1 198.9,353.8 199.4,354.3 199.8,353.8 200.2,353.2 200.7,354.2 201.1,353.8 201.5,354.4 202.0,353.8 202.4,353.7 202.8,354.4 203.3,353.7 203.7,354.0 204.1,354.4 204.6,354.0 205.0,354.0 205.5,354.0 205.9,354.2 206.3,353.8 206.8,354.1 207.2,354.1 207.6,354.6 208.1,353.9 208.5,353.8 208.9,354.2 209.4,353.9 209.8,354.1 210.2,354.0 210.7,354.3 211.1,353.8 211.5,354.0 212.0,353.4 212.4,353.8 212.8,354.4 213.3,353.8 213.7,353.8 214.2,353.7 214.6,354.1 215.0,354.0 215.5,353.7 215.9,354.2 216.3,354.1 216.8,354.2 217.2,353.8 217.6,354.4 218.1,354.1 218.5,354.0 218.9,353.9 219.4,353.9 219.8,354.2 220.2,353.9 220.7,354.3 221.1,354.1 221.6,354.3 222.0,354.2 222.4,354.0 222.9,353.5 223.3,354.1 223.7,354.2 224.2,354.0 224.6,354.1 225.0,353.9 225.5,353.9 225.9,353.8 226.3,354.3 226.8,354.0 227.2,353.9 227.6,353.7 228.1,354.0 228.5,354.4 228.9,354.1 229.4,353.8 229.8,354.3 230.3,354.3 230.7,354.2 231.1,354.2 231.6,354.3 232.0,354.1 232.4,354.2 232.9,353.8 233.3,354.4 233.7,354.0 234.2,354.5 234.6,353.5 235.0,354.2 235.5,354.2 235.9,353.9 236.3,354.1 236.8,354.2 237.2,354.1 237.7,353.9 238.1,354.0 238.5,354.2 239.0,354.3 239.4,354.0 239.8,354.0 240.3,354.0 240.7,354.2 241.1,353.7 241.6,353.7 242.0,354.0 242.4,353.7 242.9,353.8 243.3,354.0 243.7,354.1 244.2,353.7 244.6,354.2 245.0,353.5 245.5,354.1 245.9,353.6 246.4,353.7 246.8,354.1 247.2,353.9 247.7,353.8 248.1,353.9 248.5,354.1 249.0,354.0 249.4,354.0 249.8,354.3 250.3,353.8 250.7,353.9 251.1,353.9 251.6,354.3 252.0,354.2 252.4,354.3 252.9,354.0 253.3,353.9 253.8,354.2 254.2,353.9 254.6,354.2 255.1,354.2 255.5,353.8 255.9,354.0 256.4,354.0 256.8,354.4 257.2,354.6 257.7,354.0 258.1,354.0 258.5,353.4 259.0,354.0 259.4,354.0 259.8,353.7 260.3,354.2 260.7,353.6 261.1,353.9 261.6,354.0 262.0,353.7 262.5,354.2 262.9,354.2 263.3,353.6 263.8,353.6 264.2,354.1 264.6,354.0 265.1,353.7 265.5,353.9 265.9,353.9 266.4,353.9 266.8,354.2 267.2,354.1 267.7,354.4 268.1,354.3 268.5,354.1 269.0,354.2 269.4,354.3 269.9,354.1 270.3,353.7 270.7,354.2 271.2,354.0 271.6,354.4 272.0,354.0 272.5,354.1 272.9,354.0 273.3,354.4 273.8,354.0 274.2,353.9 274.6,354.0 275.1,353.8 275.5,354.0 275.9,353.9 276.4,354.0 276.8,354.4 277.2,353.8 277.7,353.9 278.1,353.9 278.6,354.1 279.0,353.6 279.4,353.7 279.9,353.9 280.3,354.0 280.7,353.9 281.2,353.7 281.6,353.6 282.0,354.0 282.5,354.2 282.9,353.9 283.3,353.8 283.8,353.8 284.2,353.4 284.6,353.5 285.1,353.4 285.5,353.4 286.0,353.0 286.4,352.4 286.8,352.5 287.3,351.9 287.7,350.6 288.1,349.7 288.6,348.6 289.0,347.7 289.4,346.3 289.9,346.5 290.3,345.9 290.7,346.7 291.2,347.2 291.6,348.1 292.0,349.2 292.5,350.5 292.9,351.0 293.3,351.9 293.8,352.4 294.2,352.5 294.7,353.6 295.1,353.6 295.5,353.5 296.0,353.9 296.4,353.5 296.8,353.7 297.3,354.2 297.7,354.0 298.1,353.2 298.6,353.0 299.0,353.6 299.4,354.1 299.9,353.7 300.3,353.8 300.7,354.0 301.2,353.7 301.6,353.9 302.0,354.1 302.5,354.0 302.9,354.0 303.4,353.7 303.8,354.0 304.2,353.8 304.7,354.2 305.1,354.5 305.5,353.7 306.0,353.4 306.4,353.8 306.8,354.0 307.3,354.2 307.7,354.2 308.1,353.7 308.6,353.7 309.0,354.2 309.4,353.6 309.9,354.2 310.3,353.9 310.8,354.1 311.2,354.1 311.6,354.1 312.1,354.1 312.5,353.7 312.9,354.0 313.4,353.9 313.8,354.0 314.2,354.2 314.7,353.8 315.1,353.7 315.5,353.7 316.0,353.8 316.4,354.1 316.8,353.7 317.3,354.2 317.7,353.9 318.1,353.8 318.6,353.5 319.0,353.9 319.5,354.0 319.9,353.4 320.3,354.1 320.8,354.2 321.2,353.9 321.6,353.9 322.1,354.4 322.5,354.0 322.9,353.5 323.4,353.7 323.8,353.6 324.2,353.6 324.7,353.0 325.1,353.8 325.5,353.4 326.0,353.6 326.4,353.4 326.9,353.6 327.3,353.3 327.7,353.1 328.2,353.3 328.6,353.4 329.0,352.8 329.5,353.0 329.9,352.5 330.3,352.0 330.8,352.1 331.2,350.9 331.6,350.3 332.1,347.7 332.5,342.4 332.9,328.9 333.4,304.5 333.8,272.2 334.2,247.2 334.7,251.1 335.1,278.5 335.6,307.5 336.0,325.8 336.4,335.2 336.9,339.7 337.3,342.3 337.7,344.6 338.2,346.9 338.6,348.6 339.0,350.1 339.5,351.6 339.9,352.2 340.3,352.7 340.8,352.7 341.2,352.8 341.6,352.8 342.1,353.2 342.5,352.8 343.0,353.3 343.4,353.7 343.8,353.9 344.3,353.8 344.7,353.4 345.1,353.8 345.6,353.5 346.0,353.9 346.4,353.7 346.9,353.9 347.3,354.4 347.7,354.0 348.2,354.4 348.6,353.8 349.0,353.7 349.5,354.1 349.9,354.3 350.3,353.7 350.8,353.9 351.2,353.5 351.7,353.8 352.1,354.1 352.5,353.9 353.0,353.7 353.4,353.5 353.8,354.0 354.3,354.1 354.7,354.0 355.1,354.0 355.6,353.6 356.0,354.4 356.4,353.9 356.9,353.9 357.3,354.1 357.7,353.4 358.2,353.9 358.6,353.9 359.1,354.0 359.5,354.3 359.9,354.1 360.4,353.5 360.8,353.9 361.2,354.0 361.7,354.0 362.1,353.6 362.5,353.5 363.0,354.1 363.4,354.0 363.8,353.9 364.3,353.5 364.7,354.4 365.1,353.2 365.6,353.9 366.0,354.5 366.4,353.9 366.9,354.0 367.3,353.7 367.8,354.3 368.2,353.6 368.6,354.0 369.1,354.0 369.5,353.7 369.9,354.2 370.4,353.6 370.8,353.8 371.2,354.0 371.7,353.9 372.1,354.1 372.5,354.2 373.0,353.9 373.4,353.8 373.8,353.8 374.3,353.9 374.7,354.2 375.1,353.9 375.6,354.1 376.0,354.0 376.5,353.8 376.9,354.2 377.3,353.7 377.8,354.0 378.2,354.3 378.6,353.7 379.1,354.0 379.5,353.6 379.9,353.9 380.4,353.6 380.8,353.9 381.2,353.8 381.7,354.0 382.1,354.4 382.5,354.1 383.0,354.1 383.4,354.0 383.9,353.9 384.3,353.8 384.7,353.5 385.2,354.0 385.6,354.4 386.0,354.1 386.5,353.8 386.9,354.4 387.3,353.9 387.8,353.8 388.2,353.7 388.6,353.7 389.1,353.9 389.5,354.5 389.9,353.9 390.4,353.7 390.8,353.8 391.2,353.9 391.7,353.6 392.1,354.0 392.6,354.2 393.0,354.1 393.4,354.1 393.9,353.7 394.3,353.6 394.7,354.3 395.2,354.3 395.6,353.6 396.0,354.0 396.5,354.0 396.9,354.1 397.3,354.0 397.8,353.9 398.2,354.0 398.6,354.0 399.1,354.0 399.5,353.5 400.0,353.2 400.4,353.8 400.8,353.6 401.3,354.1 401.7,354.2 402.1,354.1 402.6,353.9 403.0,354.0 403.4,354.3 403.9,353.8 404.3,354.2 404.7,354.2 405.2,354.1 405.6,354.4 406.0,353.8 406.5,354.2 406.9,353.8 407.3,353.8 407.8,353.7 408.2,354.1 408.7,353.8 409.1,354.0 409.5,353.7 410.0,354.3 410.4,354.4 410.8,354.0 411.3,354.4 411.7,354.1 412.1,354.5 412.6,354.0 413.0,353.6 413.4,354.4 413.9,354.0 414.3,353.7 414.7,353.8 415.2,353.6 415.6,353.9 416.1,353.7 416.5,354.4 416.9,354.2 417.4,353.6 417.8,353.6 418.2,353.8 418.7,353.5 419.1,354.0 419.5,354.0 420.0,353.8 420.4,353.9 420.8,354.1 421.3,354.3 421.7,354.4 422.1,354.0 422.6,354.2 423.0,353.8 423.4,354.1 423.9,353.8 424.3,354.2 424.8,353.7 425.2,353.7 425.6,354.0 426.1,354.1 426.5,353.6 426.9,353.9 427.4,354.0 427.8,354.0 428.2,353.8 428.7,354.0 429.1,353.9 429.5,354.3 430.0,354.1 430.4,353.7 430.8,353.4 431.3,354.0 431.7,354.3 432.2,354.0 432.6,354.2 433.0,353.9 433.5,353.6 433.9,354.2 434.3,354.0 434.8,354.2 435.2,353.6 435.6,354.0 436.1,353.8 436.5,354.2 436.9,353.8 437.4,353.8 437.8,353.8 438.2,354.3 438.7,354.0 439.1,353.8 439.5,353.7 440.0,353.7 440.4,354.4 440.9,353.5 441.3,353.8 441.7,354.1 442.2,354.3 442.6,354.0 443.0,354.2 443.5,354.2 443.9,354.2 444.3,354.0 444.8,354.4 445.2,354.0 445.6,354.4 446.1,353.7 446.5,354.2 446.9,353.7 447.4,353.6 447.8,354.1 448.2,353.8 448.7,354.1 449.1,353.7 449.6,354.4 450.0,354.0 450.4,353.7 450.9,354.0 451.3,354.2 451.7,353.8 452.2,354.1 452.6,354.5 453.0,354.2 453.5,354.0 453.9,353.8 454.3,354.1 454.8,353.6 455.2,353.2 455.6,353.8 456.1,353.7 456.5,354.4 457.0,354.0 457.4,353.7 457.8,353.7 458.3,354.1 458.7,353.8 459.1,353.8 459.6,354.0 460.0,354.0 460.4,354.0 460.9,354.0 461.3,354.3 461.7,354.4 462.2,353.6 462.6,354.6 463.0,354.0 463.5,354.3 463.9,353.8 464.3,354.0 464.8,354.0 465.2,354.0 465.7,354.2 466.1,354.1 466.5,353.7 467.0,353.9 467.4,354.1 467.8,354.1 468.3,353.9 468.7,353.9 469.1,353.9 469.6,353.6 470.0,353.6 470.4,354.3 470.9,353.8 471.3,353.9 471.7,353.7 472.2,354.2 472.6,354.3 473.1,353.7 473.5,353.9 473.9,353.6 474.4,354.1 474.8,353.9 475.2,353.4 475.7,353.8 476.1,353.5 476.5,353.3 477.0,353.0 477.4,352.2 477.8,351.3 478.3,350.0 478.7,347.7 479.1,344.8 479.6,343.2 480.0,341.5 480.4,341.6 480.9,342.0 481.3,342.4 481.8,342.5 482.2,343.1 482.6,345.2 483.1,347.0 483.5,349.5 483.9,351.1 484.4,352.3 484.8,353.0 485.2,352.7 485.7,354.2 486.1,353.3 486.5,353.7 487.0,353.9 487.4,353.9 487.8,353.8 488.3,353.0 488.7,353.5 489.2,354.0 489.6,353.6 490.0,353.6 490.5,353.3 490.9,354.2 491.3,354.0 491.8,353.7 492.2,353.9 492.6,353.9 493.1,353.6 493.5,353.9 493.9,354.0 494.4,354.1 494.8,354.3 495.2,353.9 495.7,353.8 496.1,354.0 496.5,353.8 497.0,353.6 497.4,354.2 497.9,353.9 498.3,354.0 498.7,354.1 499.2,353.7 499.6,354.1 500.0,354.1 500.5,353.9 500.9,354.1 501.3,353.8 501.8,353.4 502.2,353.9 502.6,353.7 503.1,354.2 503.5,354.0 503.9,353.8 504.4,354.0 504.8,354.3 505.3,354.3 505.7,354.1 506.1,354.1 506.6,353.9 507.0,354.0 507.4,354.1 507.9,354.0 508.3,354.1 508.7,353.7 509.2,353.6 509.6,353.6 510.0,353.9 510.5,354.3 510.9,354.3 511.3,353.7 511.8,353.6 512.2,354.2 512.6,354.1 513.1,353.6 513.5,354.3 514.0,354.0 514.4,354.3 514.8,354.1 515.3,354.2 515.7,354.1 516.1,353.8 516.6,353.9 517.0,353.8 517.4,354.2 517.9,353.7 518.3,353.6 518.7,354.2 519.2,354.3 519.6,354.4 520.0,354.3 520.5,353.6 520.9,353.8 521.4,353.9 521.8,354.0 522.2,353.5 522.7,354.0 523.1,354.1 523.5,353.8 524.0,354.0 524.4,354.3 524.8,354.0 525.3,354.3 525.7,354.2 526.1,354.1 526.6,354.1 527.0,353.9 527.4,354.3 527.9,353.9 528.3,353.8 528.7,354.2 529.2,353.8 529.6,354.1 530.1,354.3 530.5,354.0 530.9,354.0 531.4,354.2 531.8,354.2 532.2,353.6 532.7,353.7 533.1,354.3 533.5,354.1 534.0,353.5 534.4,353.7 534.8,354.0 535.3,353.8 535.7,354.1 536.1,354.0 536.6,354.1 537.0,353.7 537.4,354.2 537.9,354.5 538.3,353.8 538.8,354.3 539.2,354.2"/>
<polyline fill="none" stroke="#FF9A16" stroke-width="1.7" stroke-linejoin="round" points="53.6,380.4 54.0,380.6 54.5,381.5 54.9,380.9 55.3,379.6 55.8,380.4 56.2,380.0 56.6,380.4 57.1,379.3 57.5,380.3 57.9,380.3 58.4,381.0 58.8,380.2 59.3,380.3 59.7,379.1 60.1,381.2 60.6,378.8 61.0,380.5 61.4,379.6 61.9,379.3 62.3,379.4 62.7,379.4 63.2,380.0 63.6,379.7 64.0,380.6 64.5,378.8 64.9,379.8 65.3,379.4 65.8,380.3 66.2,378.8 66.6,379.8 67.1,380.1 67.5,379.3 68.0,380.6 68.4,380.2 68.8,380.7 69.3,380.7 69.7,379.9 70.1,380.0 70.6,380.4 71.0,380.9 71.4,381.0 71.9,380.3 72.3,380.5 72.7,380.5 73.2,380.6 73.6,380.8 74.0,380.9 74.5,381.8 74.9,380.9 75.4,381.1 75.8,381.4 76.2,381.0 76.7,381.2 77.1,381.4 77.5,381.7 78.0,381.1 78.4,382.0 78.8,381.5 79.3,381.7 79.7,382.0 80.1,381.9 80.6,382.1 81.0,381.9 81.4,381.8 81.9,382.0 82.3,381.6 82.7,382.3 83.2,381.8 83.6,381.7 84.1,382.5 84.5,382.0 84.9,381.7 85.4,382.5 85.8,382.0 86.2,382.3 86.7,381.9 87.1,382.0 87.5,381.7 88.0,381.7 88.4,381.9 88.8,382.1 89.3,382.3 89.7,382.7 90.1,381.9 90.6,382.4 91.0,382.0 91.5,382.1 91.9,381.8 92.3,381.8 92.8,382.0 93.2,381.9 93.6,382.2 94.1,382.0 94.5,382.5 94.9,382.2 95.4,382.2 95.8,382.4 96.2,382.3 96.7,382.2 97.1,382.2 97.5,382.2 98.0,382.4 98.4,382.4 98.8,382.3 99.3,382.4 99.7,382.1 100.2,382.3 100.6,381.9 101.0,382.5 101.5,382.2 101.9,382.2 102.3,382.3 102.8,382.2 103.2,382.1 103.6,382.5 104.1,382.2 104.5,382.0 104.9,382.3 105.4,381.8 105.8,382.6 106.2,382.2 106.7,382.2 107.1,382.7 107.6,382.7 108.0,382.2 108.4,382.3 108.9,382.4 109.3,382.6 109.7,382.2 110.2,382.2 110.6,382.5 111.0,382.3 111.5,382.4 111.9,382.3 112.3,381.9 112.8,382.0 113.2,381.6 113.6,382.1 114.1,382.5 114.5,382.0 114.9,382.5 115.4,382.4 115.8,382.2 116.3,382.2 116.7,382.2 117.1,382.0 117.6,382.1 118.0,382.2 118.4,382.3 118.9,382.4 119.3,382.0 119.7,382.4 120.2,382.0 120.6,382.2 121.0,382.3 121.5,382.2 121.9,382.2 122.3,382.3 122.8,382.1 123.2,382.1 123.7,382.2 124.1,382.4 124.5,382.2 125.0,382.6 125.4,382.2 125.8,381.5 126.3,382.1 126.7,382.6 127.1,382.2 127.6,382.1 128.0,382.0 128.4,382.5 128.9,382.4 129.3,382.3 129.7,382.3 130.2,382.5 130.6,382.4 131.0,381.9 131.5,382.4 131.9,382.2 132.4,382.2 132.8,382.4 133.2,382.2 133.7,381.6 134.1,382.5 134.5,382.4 135.0,382.2 135.4,382.1 135.8,382.2 136.3,381.9 136.7,382.3 137.1,382.1 137.6,382.1 138.0,382.0 138.4,382.0 138.9,382.4 139.3,382.5 139.7,382.3 140.2,382.2 140.6,382.0 141.1,382.4 141.5,382.6 141.9,381.8 142.4,382.5 142.8,381.7 143.2,382.1 143.7,382.3 144.1,381.9 144.5,381.9 145.0,382.2 145.4,382.4 145.8,382.1 146.3,382.5 146.7,382.0 147.1,382.6 147.6,382.2 148.0,382.3 148.5,382.3 148.9,382.3 149.3,382.6 149.8,382.7 150.2,382.3 150.6,382.2 151.1,381.9 151.5,382.0 151.9,382.2 152.4,382.2 152.8,382.2 153.2,382.2 153.7,382.3 154.1,381.9 154.5,382.0 155.0,382.4 155.4,382.4 155.8,382.1 156.3,382.5 156.7,382.1 157.2,382.1 157.6,381.8 158.0,382.4 158.5,382.2 158.9,382.4 159.3,382.4 159.8,382.2 160.2,382.2 160.6,382.5 161.1,382.2 161.5,382.2 161.9,382.2 162.4,382.4 162.8,382.4 163.2,382.6 163.7,382.2 164.1,382.5 164.6,382.1 165.0,382.3 165.4,382.2 165.9,382.6 166.3,382.3 166.7,382.1 167.2,382.3 167.6,382.3 168.0,382.1 168.5,382.1 168.9,382.0 169.3,382.8 169.8,382.2 170.2,382.4 170.6,382.0 171.1,382.0 171.5,382.2 171.9,382.2 172.4,382.4 172.8,382.0 173.3,382.3 173.7,382.5 174.1,382.0 174.6,382.4 175.0,382.0 175.4,382.3 175.9,382.3 176.3,382.6 176.7,382.1 177.2,382.2 177.6,382.4 178.0,382.0 178.5,382.2 178.9,382.0 179.3,382.1 179.8,382.4 180.2,382.4 180.7,382.8 181.1,382.5 181.5,382.5 182.0,382.2 182.4,382.1 182.8,382.2 183.3,381.7 183.7,382.6 184.1,382.1 184.6,382.0 185.0,382.1 185.4,382.4 185.9,382.5 186.3,382.1 186.7,382.3 187.2,382.2 187.6,382.0 188.0,382.2 188.5,382.2 188.9,381.9 189.4,382.4 189.8,381.9 190.2,382.3 190.7,382.0 191.1,382.0 191.5,382.0 192.0,382.4 192.4,381.9 192.8,382.2 193.3,382.5 193.7,382.0 194.1,382.2 194.6,382.3 195.0,382.1 195.4,382.3 195.9,382.1 196.3,382.4 196.8,382.2 197.2,382.0 197.6,382.5 198.1,382.2 198.5,382.1 198.9,382.0 199.4,382.1 199.8,382.2 200.2,382.2 200.7,382.4 201.1,381.9 201.5,382.1 202.0,382.5 202.4,382.2 202.8,382.3 203.3,382.6 203.7,382.3 204.1,382.3 204.6,382.2 205.0,382.6 205.5,382.4 205.9,382.0 206.3,382.3 206.8,381.9 207.2,382.4 207.6,382.3 208.1,382.2 208.5,382.1 208.9,381.8 209.4,382.4 209.8,382.2 210.2,382.1 210.7,382.4 211.1,382.1 211.5,382.1 212.0,382.0 212.4,381.9 212.8,382.7 213.3,382.2 213.7,382.1 214.2,382.4 214.6,381.5 215.0,382.2 215.5,382.2 215.9,382.0 216.3,382.3 216.8,381.7 217.2,382.2 217.6,382.4 218.1,381.7 218.5,381.9 218.9,382.2 219.4,382.2 219.8,382.0 220.2,382.3 220.7,382.2 221.1,381.9 221.6,382.1 222.0,381.9 222.4,381.7 222.9,381.6 223.3,382.4 223.7,382.1 224.2,382.6 224.6,381.8 225.0,382.1 225.5,382.2 225.9,382.1 226.3,382.3 226.8,382.2 227.2,382.0 227.6,381.6 228.1,382.0 228.5,382.5 228.9,382.3 229.4,382.5 229.8,382.0 230.3,382.1 230.7,382.0 231.1,382.3 231.6,382.2 232.0,382.3 232.4,382.6 232.9,382.0 233.3,382.3 233.7,381.9 234.2,382.4 234.6,382.1 235.0,382.2 235.5,382.2 235.9,382.5 236.3,382.2 236.8,382.1 237.2,381.9 237.7,382.2 238.1,382.0 238.5,382.1 239.0,382.2 239.4,382.3 239.8,382.0 240.3,382.3 240.7,382.6 241.1,381.8 241.6,382.5 242.0,382.6 242.4,382.0 242.9,382.3 243.3,381.9 243.7,382.2 244.2,382.1 244.6,382.2 245.0,382.0 245.5,382.0 245.9,382.1 246.4,382.0 246.8,382.0 247.2,382.1 247.7,381.9 248.1,382.1 248.5,382.3 249.0,381.7 249.4,382.2 249.8,382.0 250.3,381.9 250.7,381.9 251.1,382.0 251.6,382.0 252.0,382.2 252.4,381.9 252.9,382.4 253.3,382.0 253.8,382.3 254.2,382.4 254.6,381.9 255.1,382.4 255.5,382.6 255.9,382.1 256.4,382.3 256.8,382.1 257.2,382.2 257.7,382.1 258.1,382.1 258.5,382.3 259.0,382.4 259.4,382.2 259.8,382.5 260.3,382.4 260.7,382.3 261.1,382.0 261.6,382.6 262.0,382.5 262.5,381.7 262.9,381.9 263.3,382.1 263.8,382.4 264.2,382.5 264.6,382.1 265.1,382.2 265.5,382.3 265.9,381.9 266.4,382.3 266.8,382.1 267.2,382.2 267.7,382.2 268.1,381.9 268.5,382.0 269.0,382.2 269.4,382.2 269.9,382.1 270.3,382.4 270.7,382.1 271.2,381.9 271.6,382.1 272.0,382.1 272.5,382.1 272.9,382.4 273.3,382.3 273.8,382.4 274.2,382.3 274.6,382.1 275.1,382.4 275.5,382.1 275.9,382.2 276.4,381.9 276.8,382.2 277.2,382.1 277.7,382.2 278.1,382.5 278.6,382.7 279.0,382.4 279.4,382.1 279.9,382.3 280.3,382.2 280.7,382.0 281.2,382.1 281.6,382.0 282.0,382.0 282.5,382.4 282.9,381.9 283.3,381.9 283.8,382.2 284.2,381.8 284.6,381.7 285.1,381.7 285.5,382.0 286.0,381.9 286.4,381.7 286.8,381.4 287.3,381.1 287.7,381.1 288.1,379.8 288.6,376.9 289.0,366.1 289.4,345.6 289.9,331.7 290.3,346.0 290.7,365.8 291.2,377.3 291.6,379.9 292.0,381.0 292.5,381.5 292.9,381.4 293.3,381.7 293.8,381.9 294.2,381.8 294.7,381.8 295.1,382.0 295.5,382.0 296.0,381.7 296.4,382.3 296.8,382.1 297.3,381.5 297.7,381.9 298.1,382.5 298.6,382.5 299.0,382.2 299.4,381.8 299.9,382.1 300.3,382.4 300.7,382.2 301.2,382.1 301.6,382.0 302.0,382.3 302.5,382.1 302.9,382.2 303.4,382.3 303.8,382.5 304.2,382.2 304.7,382.2 305.1,381.8 305.5,382.4 306.0,382.4 306.4,382.2 306.8,381.7 307.3,382.0 307.7,382.2 308.1,382.6 308.6,382.3 309.0,382.3 309.4,382.3 309.9,382.5 310.3,381.9 310.8,382.0 311.2,381.9 311.6,382.1 312.1,382.1 312.5,382.2 312.9,381.9 313.4,382.2 313.8,382.0 314.2,382.6 314.7,382.0 315.1,382.7 315.5,382.5 316.0,381.9 316.4,382.4 316.8,382.3 317.3,381.8 317.7,382.3 318.1,382.1 318.6,382.2 319.0,381.9 319.5,382.1 319.9,382.2 320.3,382.1 320.8,382.0 321.2,382.1 321.6,381.9 322.1,382.2 322.5,381.5 322.9,382.4 323.4,382.1 323.8,382.1 324.2,382.2 324.7,381.7 325.1,382.5 325.5,381.7 326.0,382.0 326.4,382.0 326.9,382.2 327.3,381.8 327.7,381.5 328.2,381.8 328.6,381.1 329.0,381.5 329.5,381.3 329.9,381.6 330.3,380.9 330.8,380.6 331.2,380.1 331.6,379.3 332.1,377.9 332.5,373.8 332.9,359.2 333.4,326.2 333.8,282.7 334.2,273.6 334.7,311.4 335.1,350.4 335.6,370.5 336.0,377.2 336.4,379.3 336.9,380.2 337.3,380.5 337.7,380.7 338.2,380.8 338.6,381.5 339.0,381.8 339.5,381.7 339.9,382.0 340.3,381.6 340.8,381.7 341.2,382.2 341.6,381.7 342.1,382.1 342.5,382.0 343.0,382.0 343.4,382.4 343.8,381.8 344.3,381.9 344.7,381.6 345.1,381.8 345.6,381.9 346.0,382.0 346.4,382.0 346.9,382.2 347.3,381.9 347.7,381.7 348.2,382.1 348.6,382.2 349.0,381.9 349.5,381.9 349.9,382.5 350.3,382.4 350.8,382.4 351.2,382.3 351.7,382.2 352.1,382.0 352.5,382.3 353.0,382.1 353.4,382.1 353.8,382.1 354.3,382.1 354.7,382.4 355.1,381.9 355.6,382.7 356.0,381.9 356.4,382.1 356.9,382.4 357.3,382.0 357.7,382.1 358.2,382.2 358.6,381.5 359.1,382.1 359.5,382.0 359.9,382.1 360.4,382.3 360.8,382.3 361.2,382.5 361.7,382.5 362.1,382.4 362.5,382.2 363.0,382.4 363.4,382.0 363.8,382.2 364.3,382.5 364.7,382.4 365.1,381.9 365.6,382.0 366.0,382.4 366.4,382.3 366.9,382.4 367.3,381.8 367.8,381.9 368.2,382.1 368.6,382.0 369.1,382.2 369.5,382.2 369.9,382.3 370.4,382.2 370.8,382.3 371.2,382.4 371.7,382.2 372.1,381.9 372.5,382.5 373.0,382.2 373.4,382.3 373.8,382.2 374.3,381.8 374.7,382.3 375.1,382.0 375.6,381.9 376.0,382.5 376.5,382.1 376.9,382.3 377.3,382.4 377.8,382.6 378.2,381.8 378.6,382.0 379.1,382.3 379.5,382.0 379.9,381.5 380.4,382.2 380.8,382.2 381.2,382.4 381.7,382.2 382.1,382.1 382.5,382.2 383.0,382.2 383.4,382.1 383.9,382.3 384.3,382.3 384.7,382.0 385.2,382.4 385.6,382.4 386.0,382.4 386.5,381.6 386.9,382.2 387.3,382.2 387.8,382.0 388.2,382.3 388.6,381.9 389.1,382.5 389.5,382.3 389.9,382.1 390.4,382.5 390.8,382.3 391.2,382.3 391.7,381.9 392.1,382.3 392.6,382.5 393.0,382.4 393.4,381.9 393.9,382.5 394.3,382.6 394.7,382.4 395.2,382.1 395.6,381.9 396.0,382.0 396.5,382.1 396.9,382.3 397.3,382.3 397.8,382.0 398.2,381.8 398.6,382.1 399.1,381.9 399.5,382.5 400.0,381.9 400.4,382.3 400.8,382.4 401.3,382.0 401.7,382.4 402.1,382.2 402.6,382.0 403.0,382.0 403.4,382.2 403.9,382.4 404.3,381.8 404.7,382.3 405.2,382.2 405.6,382.0 406.0,382.2 406.5,382.2 406.9,382.2 407.3,382.4 407.8,382.0 408.2,382.6 408.7,382.4 409.1,382.1 409.5,381.8 410.0,382.2 410.4,382.1 410.8,382.4 411.3,382.3 411.7,382.6 412.1,382.2 412.6,382.4 413.0,382.1 413.4,382.1 413.9,382.5 414.3,382.2 414.7,382.2 415.2,382.1 415.6,382.3 416.1,382.3 416.5,382.2 416.9,381.9 417.4,382.3 417.8,382.0 418.2,382.1 418.7,382.2 419.1,382.3 419.5,381.7 420.0,382.6 420.4,382.4 420.8,382.6 421.3,382.8 421.7,382.0 422.1,382.1 422.6,382.2 423.0,382.4 423.4,382.1 423.9,382.1 424.3,382.4 424.8,382.0 425.2,382.2 425.6,382.4 426.1,382.1 426.5,382.4 426.9,382.2 427.4,381.8 427.8,382.1 428.2,382.1 428.7,382.1 429.1,382.2 429.5,382.3 430.0,382.2 430.4,382.2 430.8,382.1 431.3,382.1 431.7,382.1 432.2,382.0 432.6,382.5 433.0,381.8 433.5,382.2 433.9,381.8 434.3,382.0 434.8,382.3 435.2,382.1 435.6,382.5 436.1,382.0 436.5,382.1 436.9,382.0 437.4,382.2 437.8,382.1 438.2,382.1 438.7,382.2 439.1,382.4 439.5,382.2 440.0,382.2 440.4,382.1 440.9,382.0 441.3,381.8 441.7,381.9 442.2,382.2 442.6,381.7 443.0,382.3 443.5,382.0 443.9,381.9 444.3,382.0 444.8,382.3 445.2,382.2 445.6,382.2 446.1,382.5 446.5,382.7 446.9,381.9 447.4,382.3 447.8,382.0 448.2,381.8 448.7,382.0 449.1,382.4 449.6,382.1 450.0,382.1 450.4,382.5 450.9,382.3 451.3,382.2 451.7,382.6 452.2,382.3 452.6,382.0 453.0,381.9 453.5,382.1 453.9,382.2 454.3,382.4 454.8,382.4 455.2,382.2 455.6,381.9 456.1,382.4 456.5,382.2 457.0,381.9 457.4,381.9 457.8,382.2 458.3,382.3 458.7,382.4 459.1,381.9 459.6,382.6 460.0,381.8 460.4,382.2 460.9,382.5 461.3,382.4 461.7,382.0 462.2,382.3 462.6,382.4 463.0,382.3 463.5,381.9 463.9,382.5 464.3,381.8 464.8,382.2 465.2,381.9 465.7,382.1 466.1,382.1 466.5,382.3 467.0,381.9 467.4,382.2 467.8,382.4 468.3,382.2 468.7,382.2 469.1,382.2 469.6,382.0 470.0,382.0 470.4,382.1 470.9,382.2 471.3,382.5 471.7,382.4 472.2,382.0 472.6,382.0 473.1,381.8 473.5,381.5 473.9,382.3 474.4,382.1 474.8,381.5 475.2,381.9 475.7,382.4 476.1,381.9 476.5,381.9 477.0,381.7 477.4,381.4 477.8,381.1 478.3,380.9 478.7,380.5 479.1,378.7 479.6,373.9 480.0,363.1 480.4,347.1 480.9,338.4 481.3,346.9 481.8,362.4 482.2,374.3 482.6,378.9 483.1,380.7 483.5,381.0 483.9,381.0 484.4,381.8 484.8,381.2 485.2,381.7 485.7,381.7 486.1,381.9 486.5,382.1 487.0,382.2 487.4,381.5 487.8,382.2 488.3,381.6 488.7,382.2 489.2,382.0 489.6,381.8 490.0,382.0 490.5,381.8 490.9,382.1 491.3,382.3 491.8,382.3 492.2,382.1 492.6,382.4 493.1,382.2 493.5,382.6 493.9,382.3 494.4,382.0 494.8,382.1 495.2,382.0 495.7,382.1 496.1,382.1 496.5,382.3 497.0,382.3 497.4,382.2 497.9,382.3 498.3,382.0 498.7,382.0 499.2,381.6 499.6,382.0 500.0,382.1 500.5,382.7 500.9,381.9 501.3,382.2 501.8,382.1 502.2,381.8 502.6,382.2 503.1,382.2 503.5,381.8 503.9,381.7 504.4,382.2 504.8,381.9 505.3,382.3 505.7,382.1 506.1,382.3 506.6,382.1 507.0,382.5 507.4,382.3 507.9,382.5 508.3,382.2 508.7,382.0 509.2,381.9 509.6,382.1 510.0,382.3 510.5,382.0 510.9,382.7 511.3,382.2 511.8,382.3 512.2,382.2 512.6,381.9 513.1,382.4 513.5,382.3 514.0,382.4 514.4,382.0 514.8,382.2 515.3,382.2 515.7,382.5 516.1,381.9 516.6,382.3 517.0,382.5 517.4,382.1 517.9,382.0 518.3,382.5 518.7,382.3 519.2,382.5 519.6,382.4 520.0,382.4 520.5,382.2 520.9,381.7 521.4,382.3 521.8,382.1 522.2,382.3 522.7,382.1 523.1,382.6 523.5,382.2 524.0,382.4 524.4,382.5 524.8,382.2 525.3,382.3 525.7,382.2 526.1,382.0 526.6,382.5 527.0,382.0 527.4,381.9 527.9,382.1 528.3,382.2 528.7,382.2 529.2,382.1 529.6,382.1 530.1,381.7 530.5,382.3 530.9,382.6 531.4,382.0 531.8,381.8 532.2,382.4 532.7,382.2 533.1,381.3 533.5,382.0 534.0,381.9 534.4,381.9 534.8,382.7 535.3,382.4 535.7,382.2 536.1,382.2 536.6,382.6 537.0,382.0 537.4,382.4 537.9,382.1 538.3,382.4 538.8,382.3 539.2,382.0"/>
<polyline fill="none" stroke="#FF1A1A" stroke-width="1.7" stroke-linejoin="round" points="53.6,326.2 54.0,325.9 54.5,326.5 54.9,326.8 55.3,327.2 55.8,326.5 56.2,326.1 56.6,325.9 57.1,326.8 57.5,327.4 57.9,326.5 58.4,325.5 58.8,325.6 59.3,327.2 59.7,326.3 60.1,324.9 60.6,325.5 61.0,324.2 61.4,325.6 61.9,325.8 62.3,325.7 62.7,326.6 63.2,326.2 63.6,325.9 64.0,326.6 64.5,326.9 64.9,325.4 65.3,326.3 65.8,325.9 66.2,326.4 66.6,325.8 67.1,326.6 67.5,326.6 68.0,326.5 68.4,326.1 68.8,326.6 69.3,326.2 69.7,326.1 70.1,327.0 70.6,326.4 71.0,327.6 71.4,327.4 71.9,326.1 72.3,327.3 72.7,326.6 73.2,327.2 73.6,327.2 74.0,326.4 74.5,327.2 74.9,327.2 75.4,327.7 75.8,326.9 76.2,327.7 76.7,326.9 77.1,327.3 77.5,327.1 78.0,327.9 78.4,327.6 78.8,328.3 79.3,327.7 79.7,327.7 80.1,327.7 80.6,327.3 81.0,327.4 81.4,327.9 81.9,327.4 82.3,327.5 82.7,327.5 83.2,327.7 83.6,327.4 84.1,327.4 84.5,327.6 84.9,327.5 85.4,327.2 85.8,327.7 86.2,327.1 86.7,327.2 87.1,327.1 87.5,327.8 88.0,327.4 88.4,327.2 88.8,327.2 89.3,327.6 89.7,327.2 90.1,327.2 90.6,327.7 91.0,327.2 91.5,327.4 91.9,327.5 92.3,327.4 92.8,327.5 93.2,327.8 93.6,327.4 94.1,327.2 94.5,327.0 94.9,327.4 95.4,327.4 95.8,327.6 96.2,327.4 96.7,327.4 97.1,327.3 97.5,327.4 98.0,327.5 98.4,327.4 98.8,327.5 99.3,328.0 99.7,327.6 100.2,327.1 100.6,327.9 101.0,327.6 101.5,327.3 101.9,327.7 102.3,327.5 102.8,327.3 103.2,327.3 103.6,327.2 104.1,327.5 104.5,327.8 104.9,327.4 105.4,327.6 105.8,328.0 106.2,327.2 106.7,327.6 107.1,327.4 107.6,327.2 108.0,327.2 108.4,327.5 108.9,327.6 109.3,327.4 109.7,327.5 110.2,327.7 110.6,327.6 111.0,327.7 111.5,327.6 111.9,327.6 112.3,327.9 112.8,327.6 113.2,327.5 113.6,327.7 114.1,327.2 114.5,327.4 114.9,327.7 115.4,327.6 115.8,327.9 116.3,327.5 116.7,327.1 117.1,328.0 117.6,327.7 118.0,327.2 118.4,327.8 118.9,327.5 119.3,327.0 119.7,327.4 120.2,327.3 120.6,327.9 121.0,327.3 121.5,327.4 121.9,327.4 122.3,327.4 122.8,327.2 123.2,327.5 123.7,327.7 124.1,327.6 124.5,327.2 125.0,327.2 125.4,327.5 125.8,327.3 126.3,327.3 126.7,327.0 127.1,327.9 127.6,327.7 128.0,327.2 128.4,327.6 128.9,327.7 129.3,326.8 129.7,327.3 130.2,327.3 130.6,327.5 131.0,327.3 131.5,327.3 131.9,327.3 132.4,327.8 132.8,327.9 133.2,327.2 133.7,327.0 134.1,327.9 134.5,327.0 135.0,327.0 135.4,327.1 135.8,327.2 136.3,327.2 136.7,326.9 137.1,326.4 137.6,326.5 138.0,326.0 138.4,325.6 138.9,323.4 139.3,320.1 139.7,315.8 140.2,311.8 140.6,309.1 141.1,310.9 141.5,315.9 141.9,320.4 142.4,323.7 142.8,324.8 143.2,326.1 143.7,326.6 144.1,326.4 144.5,326.7 145.0,327.3 145.4,327.4 145.8,327.2 146.3,327.1 146.7,327.4 147.1,327.1 147.6,327.1 148.0,326.9 148.5,327.1 148.9,327.0 149.3,327.5 149.8,326.5 150.2,326.3 150.6,325.4 151.1,324.0 151.5,323.3 151.9,322.2 152.4,323.4 152.8,324.7 153.2,324.9 153.7,325.9 154.1,327.0 154.5,326.9 155.0,326.8 155.4,327.1 155.8,327.1 156.3,327.5 156.7,327.4 157.2,327.3 157.6,327.2 158.0,327.3 158.5,327.7 158.9,327.5 159.3,327.5 159.8,327.4 160.2,327.1 160.6,327.2 161.1,327.6 161.5,327.4 161.9,327.2 162.4,327.0 162.8,327.4 163.2,327.3 163.7,327.3 164.1,327.3 164.6,327.5 165.0,327.5 165.4,327.6 165.9,327.6 166.3,327.7 166.7,327.6 167.2,327.3 167.6,327.3 168.0,327.4 168.5,327.2 168.9,327.3 169.3,327.4 169.8,326.8 170.2,326.4 170.6,326.9 171.1,326.5 171.5,326.5 171.9,325.8 172.4,326.5 172.8,326.3 173.3,326.2 173.7,326.3 174.1,326.6 174.6,326.7 175.0,326.8 175.4,326.7 175.9,327.4 176.3,327.2 176.7,327.3 177.2,327.3 177.6,326.7 178.0,327.4 178.5,327.2 178.9,327.2 179.3,327.2 179.8,326.9 180.2,327.3 180.7,326.8 181.1,326.6 181.5,326.6 182.0,326.8 182.4,327.0 182.8,326.7 183.3,326.6 183.7,327.4 184.1,326.9 184.6,327.6 185.0,327.3 185.4,327.2 185.9,327.2 186.3,327.5 186.7,327.6 187.2,327.4 187.6,327.7 188.0,328.0 188.5,327.4 188.9,327.2 189.4,327.2 189.8,327.1 190.2,327.3 190.7,327.3 191.1,327.1 191.5,327.6 192.0,326.8 192.4,327.1 192.8,328.0 193.3,327.7 193.7,327.6 194.1,327.6 194.6,327.9 195.0,327.6 195.4,327.5 195.9,327.1 196.3,327.4 196.8,327.3 197.2,327.3 197.6,327.3 198.1,327.4 198.5,327.4 198.9,327.7 199.4,327.1 199.8,327.4 200.2,327.9 200.7,327.4 201.1,327.7 201.5,327.6 202.0,327.7 202.4,327.5 202.8,326.9 203.3,327.1 203.7,326.9 204.1,326.5 204.6,326.7 205.0,326.4 205.5,326.2 205.9,326.6 206.3,326.6 206.8,326.5 207.2,326.6 207.6,326.8 208.1,326.9 208.5,327.0 208.9,327.2 209.4,327.2 209.8,327.4 210.2,327.5 210.7,327.5 211.1,327.2 211.5,327.3 212.0,327.5 212.4,327.4 212.8,327.4 213.3,326.8 213.7,326.8 214.2,327.5 214.6,327.5 215.0,327.8 215.5,327.6 215.9,327.5 216.3,327.5 216.8,327.1 217.2,327.7 217.6,327.3 218.1,327.6 218.5,327.5 218.9,327.5 219.4,327.7 219.8,327.4 220.2,327.4 220.7,327.3 221.1,327.4 221.6,327.9 222.0,327.4 222.4,327.8 222.9,327.7 223.3,327.7 223.7,327.7 224.2,327.2 224.6,327.6 225.0,327.9 225.5,327.3 225.9,327.5 226.3,327.3 226.8,327.6 227.2,327.2 227.6,327.9 228.1,327.4 228.5,327.1 228.9,327.9 229.4,327.7 229.8,327.6 230.3,327.6 230.7,327.4 231.1,327.4 231.6,327.7 232.0,327.7 232.4,327.7 232.9,327.5 233.3,327.4 233.7,327.4 234.2,327.8 234.6,327.8 235.0,327.4 235.5,327.4 235.9,327.8 236.3,327.7 236.8,327.7 237.2,327.2 237.7,327.4 238.1,327.4 238.5,327.5 239.0,327.1 239.4,327.8 239.8,327.6 240.3,327.6 240.7,327.2 241.1,327.5 241.6,327.8 242.0,327.1 242.4,327.6 242.9,327.7 243.3,327.3 243.7,327.7 244.2,327.4 244.6,327.8 245.0,327.6 245.5,327.5 245.9,328.0 246.4,327.7 246.8,327.8 247.2,327.2 247.7,327.3 248.1,327.7 248.5,327.7 249.0,327.4 249.4,327.7 249.8,327.2 250.3,327.5 250.7,327.2 251.1,327.5 251.6,327.3 252.0,327.3 252.4,327.4 252.9,327.9 253.3,327.2 253.8,327.2 254.2,327.6 254.6,327.2 255.1,327.7 255.5,327.3 255.9,327.2 256.4,327.2 256.8,327.5 257.2,327.1 257.7,327.0 258.1,326.9 258.5,326.5 259.0,326.7 259.4,327.4 259.8,327.3 260.3,327.3 260.7,327.4 261.1,327.2 261.6,327.4 262.0,327.1 262.5,327.5 262.9,327.2 263.3,327.4 263.8,327.5 264.2,327.3 264.6,327.6 265.1,327.5 265.5,327.5 265.9,327.8 266.4,327.1 266.8,327.0 267.2,327.6 267.7,327.7 268.1,327.9 268.5,327.6 269.0,327.6 269.4,327.2 269.9,327.6 270.3,327.6 270.7,327.2 271.2,327.2 271.6,327.4 272.0,327.5 272.5,326.7 272.9,327.4 273.3,327.5 273.8,327.4 274.2,327.5 274.6,327.5 275.1,327.2 275.5,327.5 275.9,327.3 276.4,327.2 276.8,327.4 277.2,327.8 277.7,327.0 278.1,327.0 278.6,326.9 279.0,327.8 279.4,327.3 279.9,327.3 280.3,327.1 280.7,327.1 281.2,326.8 281.6,327.3 282.0,327.3 282.5,326.7 282.9,326.9 283.3,326.9 283.8,327.1 284.2,327.1 284.6,327.2 285.1,327.2 285.5,327.0 286.0,326.8 286.4,326.0 286.8,325.8 287.3,325.7 287.7,324.6 288.1,322.5 288.6,314.8 289.0,290.5 289.4,243.3 289.9,210.7 290.3,243.0 290.7,290.9 291.2,314.9 291.6,322.6 292.0,324.8 292.5,325.8 292.9,325.9 293.3,326.2 293.8,326.2 294.2,327.0 294.7,327.2 295.1,326.7 295.5,327.0 296.0,327.0 296.4,326.9 296.8,326.5 297.3,327.0 297.7,327.3 298.1,326.8 298.6,326.9 299.0,326.3 299.4,327.4 299.9,327.2 300.3,327.0 300.7,326.8 301.2,326.6 301.6,326.7 302.0,326.4 302.5,326.3 302.9,326.2 303.4,326.0 303.8,326.3 304.2,325.4 304.7,325.8 305.1,325.7 305.5,325.7 306.0,325.5 306.4,326.5 306.8,326.2 307.3,326.5 307.7,326.9 308.1,326.6 308.6,327.0 309.0,327.1 309.4,327.4 309.9,327.4 310.3,327.0 310.8,327.5 311.2,327.2 311.6,327.3 312.1,327.2 312.5,327.5 312.9,327.0 313.4,327.4 313.8,327.6 314.2,327.2 314.7,327.8 315.1,327.1 315.5,327.3 316.0,327.2 316.4,327.1 316.8,327.0 317.3,327.1 317.7,327.2 318.1,327.0 318.6,327.4 319.0,327.6 319.5,326.8 319.9,327.4 320.3,327.2 320.8,327.1 321.2,327.7 321.6,327.3 322.1,327.0 322.5,326.9 322.9,326.2 323.4,326.8 323.8,326.3 324.2,326.4 324.7,326.3 325.1,326.3 325.5,326.5 326.0,326.1 326.4,326.1 326.9,325.7 327.3,325.8 327.7,325.9 328.2,325.3 328.6,326.1 329.0,325.3 329.5,324.9 329.9,325.4 330.3,325.1 330.8,323.7 331.2,322.8 331.6,322.3 332.1,318.7 332.5,310.1 332.9,283.3 333.4,215.7 333.8,115.5 334.2,73.6 334.7,148.6 335.1,243.5 335.6,296.0 336.0,314.1 336.4,320.1 336.9,321.9 337.3,323.5 337.7,324.8 338.2,325.1 338.6,325.5 339.0,325.8 339.5,326.2 339.9,326.5 340.3,326.1 340.8,326.6 341.2,327.1 341.6,326.9 342.1,326.6 342.5,326.7 343.0,326.4 343.4,326.8 343.8,327.4 344.3,327.1 344.7,326.9 345.1,327.0 345.6,327.1 346.0,327.2 346.4,327.1 346.9,327.0 347.3,327.4 347.7,327.6 348.2,327.1 348.6,327.2 349.0,327.6 349.5,326.9 349.9,327.2 350.3,327.2 350.8,327.4 351.2,327.3 351.7,327.1 352.1,327.4 352.5,327.1 353.0,326.9 353.4,326.9 353.8,327.6 354.3,327.0 354.7,327.5 355.1,327.6 355.6,327.6 356.0,327.4 356.4,327.3 356.9,327.4 357.3,327.3 357.7,327.1 358.2,327.7 358.6,327.2 359.1,327.9 359.5,327.6 359.9,327.3 360.4,327.5 360.8,327.7 361.2,327.1 361.7,327.2 362.1,327.2 362.5,327.5 363.0,327.5 363.4,327.4 363.8,327.3 364.3,327.3 364.7,327.7 365.1,327.7 365.6,327.5 366.0,327.1 366.4,327.6 366.9,327.5 367.3,327.5 367.8,327.9 368.2,327.7 368.6,327.2 369.1,327.2 369.5,327.8 369.9,327.5 370.4,327.7 370.8,327.4 371.2,327.2 371.7,327.5 372.1,327.9 372.5,327.6 373.0,327.2 373.4,327.4 373.8,327.4 374.3,327.5 374.7,327.7 375.1,328.0 375.6,327.5 376.0,327.4 376.5,327.5 376.9,327.5 377.3,327.4 377.8,327.5 378.2,327.5 378.6,327.2 379.1,327.6 379.5,327.4 379.9,327.2 380.4,327.6 380.8,327.4 381.2,327.9 381.7,327.6 382.1,327.5 382.5,327.3 383.0,327.4 383.4,327.7 383.9,327.3 384.3,327.7 384.7,326.9 385.2,327.5 385.6,327.7 386.0,327.5 386.5,327.4 386.9,327.7 387.3,327.2 387.8,327.2 388.2,327.4 388.6,327.7 389.1,327.5 389.5,327.3 389.9,327.4 390.4,327.4 390.8,326.9 391.2,326.5 391.7,326.9 392.1,326.7 392.6,326.8 393.0,326.5 393.4,326.5 393.9,326.8 394.3,326.6 394.7,326.5 395.2,326.9 395.6,326.4 396.0,326.5 396.5,327.0 396.9,326.5 397.3,326.4 397.8,327.3 398.2,327.1 398.6,327.3 399.1,327.3 399.5,327.5 400.0,327.2 400.4,327.3 400.8,327.1 401.3,327.4 401.7,327.5 402.1,327.3 402.6,327.6 403.0,328.2 403.4,327.2 403.9,327.7 404.3,327.7 404.7,327.7 405.2,327.3 405.6,327.8 406.0,327.6 406.5,327.5 406.9,327.4 407.3,327.6 407.8,327.7 408.2,327.7 408.7,328.1 409.1,327.4 409.5,327.7 410.0,327.4 410.4,327.7 410.8,327.5 411.3,327.4 411.7,327.2 412.1,327.3 412.6,327.6 413.0,327.9 413.4,327.7 413.9,327.2 414.3,327.4 414.7,327.5 415.2,327.5 415.6,327.5 416.1,327.7 416.5,327.6 416.9,327.3 417.4,327.0 417.8,327.4 418.2,327.1 418.7,327.5 419.1,327.6 419.5,327.2 420.0,327.5 420.4,327.4 420.8,328.0 421.3,327.6 421.7,327.0 422.1,327.6 422.6,327.6 423.0,327.4 423.4,327.4 423.9,327.6 424.3,327.6 424.8,327.6 425.2,327.2 425.6,327.4 426.1,327.1 426.5,327.1 426.9,327.3 427.4,327.2 427.8,327.4 428.2,328.1 428.7,327.6 429.1,327.2 429.5,326.9 430.0,327.2 430.4,327.1 430.8,326.9 431.3,327.6 431.7,327.3 432.2,327.6 432.6,328.2 433.0,327.5 433.5,327.5 433.9,327.5 434.3,327.4 434.8,327.2 435.2,327.4 435.6,327.7 436.1,327.4 436.5,327.1 436.9,327.1 437.4,327.2 437.8,327.5 438.2,327.6 438.7,327.6 439.1,327.8 439.5,327.4 440.0,327.7 440.4,327.5 440.9,327.6 441.3,327.0 441.7,327.8 442.2,327.1 442.6,327.2 443.0,327.7 443.5,327.4 443.9,327.9 444.3,327.5 444.8,327.2 445.2,327.5 445.6,327.4 446.1,327.9 446.5,327.9 446.9,327.7 447.4,327.4 447.8,327.5 448.2,327.7 448.7,327.3 449.1,327.3 449.6,327.7 450.0,327.7 450.4,327.4 450.9,327.4 451.3,327.0 451.7,327.8 452.2,327.4 452.6,327.1 453.0,327.2 453.5,327.2 453.9,327.9 454.3,327.6 454.8,327.1 455.2,327.9 455.6,327.8 456.1,327.2 456.5,326.8 457.0,327.7 457.4,327.3 457.8,327.4 458.3,327.3 458.7,327.8 459.1,327.8 459.6,327.7 460.0,327.4 460.4,327.5 460.9,327.6 461.3,327.1 461.7,327.8 462.2,327.4 462.6,327.5 463.0,327.5 463.5,327.7 463.9,327.7 464.3,328.0 464.8,327.3 465.2,327.2 465.7,327.5 466.1,327.3 466.5,327.6 467.0,327.2 467.4,327.4 467.8,327.6 468.3,327.7 468.7,327.4 469.1,327.7 469.6,327.7 470.0,326.9 470.4,327.4 470.9,327.4 471.3,327.3 471.7,327.2 472.2,327.3 472.6,327.4 473.1,327.3 473.5,327.6 473.9,327.4 474.4,327.0 474.8,326.9 475.2,327.2 475.7,326.8 476.1,326.9 476.5,326.8 477.0,326.8 477.4,326.4 477.8,326.3 478.3,325.3 478.7,324.8 479.1,322.6 479.6,316.6 480.0,297.7 480.4,260.3 480.9,224.1 481.3,233.9 481.8,274.6 482.2,306.0 482.6,319.3 483.1,323.5 483.5,325.1 483.9,325.6 484.4,326.4 484.8,326.4 485.2,326.4 485.7,326.9 486.1,326.7 486.5,327.0 487.0,326.6 487.4,327.0 487.8,327.3 488.3,327.0 488.7,327.2 489.2,327.4 489.6,327.3 490.0,327.7 490.5,327.3 490.9,327.3 491.3,327.3 491.8,326.9 492.2,327.0 492.6,327.5 493.1,327.3 493.5,327.7 493.9,327.4 494.4,327.4 494.8,327.7 495.2,327.5 495.7,327.8 496.1,327.2 496.5,327.5 497.0,327.6 497.4,327.6 497.9,327.7 498.3,327.7 498.7,327.5 499.2,327.3 499.6,327.7 500.0,327.5 500.5,327.7 500.9,327.8 501.3,327.5 501.8,327.2 502.2,327.4 502.6,327.7 503.1,327.4 503.5,327.8 503.9,327.5 504.4,327.5 504.8,327.3 505.3,327.5 505.7,327.8 506.1,327.4 506.6,327.4 507.0,327.3 507.4,327.7 507.9,327.1 508.3,327.3 508.7,327.7 509.2,327.9 509.6,327.4 510.0,327.7 510.5,327.0 510.9,327.7 511.3,327.6 511.8,327.2 512.2,327.1 512.6,327.4 513.1,327.6 513.5,327.6 514.0,327.5 514.4,327.7 514.8,327.7 515.3,327.2 515.7,327.4 516.1,327.4 516.6,327.8 517.0,327.4 517.4,327.8 517.9,327.5 518.3,328.1 518.7,327.5 519.2,327.5 519.6,327.5 520.0,327.5 520.5,328.1 520.9,327.4 521.4,327.3 521.8,327.5 522.2,327.7 522.7,327.3 523.1,327.7 523.5,327.7 524.0,327.5 524.4,327.4 524.8,327.3 525.3,327.4 525.7,327.3 526.1,327.8 526.6,327.9 527.0,327.4 527.4,327.5 527.9,327.0 528.3,327.4 528.7,327.6 529.2,327.6 529.6,327.5 530.1,327.7 530.5,327.5 530.9,327.4 531.4,327.9 531.8,327.0 532.2,327.2 532.7,327.3 533.1,327.3 533.5,327.3 534.0,327.4 534.4,327.3 534.8,327.5 535.3,327.6 535.7,327.5 536.1,327.5 536.6,327.3 537.0,327.2 537.4,327.4 537.9,327.7 538.3,327.6 538.8,327.8 539.2,327.7"/>
</g>
<defs><clipPath id="cm"><rect x="54" y="14" width="485" height="434"/></clipPath><clipPath id="ci"><rect x="92" y="25.5" width="161.5" height="210"/></clipPath></defs>
<rect x="53.95" y="13.9" width="485.85" height="434.7" fill="none" stroke="#000" stroke-width="2"/>
<path d="M68.10,448.6V442.60 M104.36,448.6V445.60 M140.62,448.6V442.60 M176.88,448.6V445.60 M213.14,448.6V442.60 M249.40,448.6V445.60 M285.66,448.6V442.60 M321.92,448.6V445.60 M358.18,448.6V442.60 M394.44,448.6V445.60 M430.70,448.6V442.60 M466.96,448.6V445.60 M503.22,448.6V442.60" stroke="#000" stroke-width="1.6" fill="none"/>
<text x="68.10" y="471.7" font-size="17.2" text-anchor="middle">10</text>
<text x="140.62" y="471.7" font-size="17.2" text-anchor="middle">20</text>
<text x="213.14" y="471.7" font-size="17.2" text-anchor="middle">30</text>
<text x="285.66" y="471.7" font-size="17.2" text-anchor="middle">40</text>
<text x="358.18" y="471.7" font-size="17.2" text-anchor="middle">50</text>
<text x="430.70" y="471.7" font-size="17.2" text-anchor="middle">60</text>
<text x="503.22" y="471.7" font-size="17.2" text-anchor="middle">70</text>
<text x="297" y="506.5" font-size="25" text-anchor="middle">2 Theta (deg.)</text>
<text transform="translate(27.6,231.5) rotate(-90)" font-size="25" text-anchor="middle">Intensity (a.u.)</text>
<text transform="translate(292.8,207.4) rotate(-90)" font-size="12.7" text-anchor="start">Al (110)</text>
<text transform="translate(338.4,69.2) rotate(-90)" font-size="12.7" text-anchor="start">Al (200)</text>
<text transform="translate(485.5,219.2) rotate(-90)" font-size="12.7" text-anchor="start">Al (220)</text>
<line x1="384" x2="417.5" y1="38.9" y2="38.9" stroke="#FF1A1A" stroke-width="1.8"/>
<text x="424.4" y="44.8" font-size="12.3" font-style="italic" fill="#FF1A1A">LDH-8HQ 6 h</text>
<line x1="384" x2="417.5" y1="61.4" y2="61.4" stroke="#A85A0A" stroke-width="1.8"/>
<text x="422.0" y="67.3" font-size="12.3" font-style="italic" fill="#A85A0A">LDH-8HQ 1 h</text>
<line x1="384" x2="417.5" y1="83.6" y2="83.6" stroke="#FF9A16" stroke-width="1.8"/>
<text x="422.0" y="89.5" font-size="12.3" font-style="italic" fill="#FF9A16">LDH-8HQ 30 min</text>
<line x1="384" x2="417.5" y1="105.9" y2="105.9" stroke="#26A69A" stroke-width="1.8"/>
<text x="422.0" y="111.8" font-size="12.3" font-style="italic" fill="#26A69A">LDH-8HQ 5 min</text>
<line x1="384" x2="417.5" y1="128.3" y2="128.3" stroke="#000000" stroke-width="1.8"/>
<text x="422.0" y="134.7" font-size="12.3" font-style="italic" fill="#000">LDH-NO<tspan dy="3.2">3</tspan></text>
<line x1="110.2" y1="300" x2="146" y2="273.5" stroke="#000" stroke-width="1.6"/>
<polygon points="151.9,269.7 141.2,274.0 144.8,279.2" fill="#000"/>
<rect x="91.9" y="25.0" width="161.8" height="210.8" fill="#fff" stroke="none"/>
<g clip-path="url(#ci)">
<polyline fill="none" stroke="#000000" stroke-width="1.1" stroke-linejoin="round" points="91.3,223.2 91.7,223.4 92.0,224.0 92.4,223.2 92.8,223.0 93.2,223.0 93.5,223.1 93.9,223.2 94.3,223.8 94.7,222.2 95.0,223.7 95.4,223.3 95.8,223.8 96.2,223.6 96.5,223.0 96.9,223.2 97.3,223.7 97.7,223.1 98.0,223.1 98.4,223.8 98.8,223.4 99.2,222.8 99.5,223.3 99.9,223.2 100.3,222.1 100.7,222.9 101.0,222.8 101.4,223.4 101.8,222.9 102.2,223.3 102.5,223.5 102.9,222.5 103.3,223.1 103.7,223.8 104.0,223.3 104.4,223.3 104.8,223.6 105.2,223.2 105.5,223.4 105.9,223.3 106.3,223.4 106.7,223.3 107.0,223.8 107.4,222.3 107.8,223.0 108.2,223.1 108.5,222.2 108.9,223.5 109.3,223.2 109.7,222.3 110.0,223.6 110.4,223.2 110.8,223.4 111.2,222.9 111.5,223.7 111.9,222.4 112.3,223.3 112.7,223.0 113.0,222.2 113.4,223.3 113.8,222.7 114.2,222.9 114.5,222.1 114.9,222.7 115.3,222.6 115.7,221.7 116.0,222.2 116.4,221.4 116.8,221.4 117.2,220.8 117.5,221.4 117.9,220.9 118.3,220.0 118.7,220.4 119.0,220.3 119.4,220.1 119.8,218.9 120.2,219.3 120.5,219.1 120.9,219.1 121.3,218.7 121.7,219.9 122.0,218.7 122.4,220.3 122.8,220.3 123.2,219.7 123.5,220.2 123.9,220.6 124.3,221.7 124.7,222.3 125.0,222.7 125.4,220.9 125.8,221.8 126.2,222.5 126.5,222.8 126.9,223.0 127.3,222.5 127.7,222.9 128.0,222.9 128.4,222.6 128.8,222.4 129.2,222.9 129.5,223.2 129.9,223.0 130.3,223.0 130.7,222.8 131.0,222.4 131.4,223.2 131.8,222.9 132.2,222.0 132.5,223.1 132.9,223.1 133.3,223.6 133.7,222.8 134.0,222.2 134.4,221.6 134.8,222.8 135.2,222.8 135.5,221.6 135.9,221.8 136.3,221.8 136.7,221.3 137.0,221.7 137.4,222.0 137.8,222.3 138.2,222.7 138.5,222.5 138.9,222.5 139.3,222.3 139.7,222.9 140.0,221.8 140.4,222.1 140.8,223.0 141.2,222.6 141.5,223.2 141.9,223.1 142.3,223.7 142.7,223.9 143.0,223.5 143.4,223.5 143.8,223.0 144.2,222.6 144.5,223.0 144.9,222.5 145.3,223.2 145.7,222.9 146.0,223.6 146.4,223.2 146.8,222.0 147.2,223.4 147.5,223.7 147.9,223.4 148.3,223.7 148.7,222.6 149.0,223.0 149.4,223.6 149.8,223.7 150.2,223.5 150.5,223.4 150.9,223.1 151.3,224.0 151.7,223.3 152.0,223.7 152.4,223.5 152.8,223.3 153.2,223.5 153.5,223.1 153.9,222.9 154.3,223.1 154.7,223.4 155.0,222.7 155.4,223.9 155.8,224.1 156.2,223.1 156.5,223.8 156.9,223.3 157.3,223.1 157.7,223.6 158.0,223.1 158.4,223.5 158.8,223.7 159.2,223.8 159.5,223.0 159.9,223.3 160.3,222.6 160.7,223.3 161.0,223.0 161.4,223.1 161.8,223.1 162.2,223.0 162.5,222.6 162.9,223.4 163.3,223.5 163.7,223.3 164.0,222.8 164.4,223.6 164.8,222.3 165.2,223.9 165.5,222.7 165.9,223.6 166.3,223.6 166.7,222.6 167.0,223.5 167.4,223.6 167.8,223.6 168.2,223.4 168.5,223.5 168.9,223.3 169.3,223.5 169.7,223.8 170.0,223.4 170.4,223.0 170.8,223.9 171.2,222.6 171.5,222.4 171.9,223.1 172.3,223.9 172.7,224.3 173.0,223.2 173.4,223.8 173.8,223.1 174.2,222.6 174.5,222.7 174.9,222.7 175.3,223.4 175.7,222.6 176.0,223.3 176.4,222.4 176.8,223.0 177.2,223.3 177.5,223.4 177.9,223.6 178.3,223.5 178.7,223.4 179.0,223.4 179.4,222.3 179.8,223.5 180.2,223.5 180.5,223.0 180.9,223.2 181.3,223.6 181.7,222.5 182.0,222.7 182.4,223.1 182.8,223.4 183.2,222.8 183.5,224.1 183.9,223.9 184.3,222.9 184.7,223.9 185.0,224.1 185.4,223.5 185.8,223.5 186.2,223.1 186.5,223.4 186.9,224.0 187.3,224.0 187.7,223.2 188.0,223.6 188.4,223.8 188.8,223.4 189.2,223.3 189.5,224.1 189.9,222.7 190.3,223.5 190.7,223.9 191.0,223.0 191.4,223.7 191.8,223.9 192.2,222.9 192.5,223.2 192.9,223.3 193.3,222.4 193.7,222.9 194.0,223.5 194.4,223.5 194.8,223.2 195.2,223.2 195.5,223.3 195.9,223.5 196.3,223.5 196.7,223.2 197.0,223.9 197.4,223.4 197.8,223.3 198.2,223.4 198.5,223.8 198.9,223.1 199.3,223.3 199.7,223.6 200.0,223.4 200.4,223.4 200.8,223.3 201.2,223.7 201.5,222.4 201.9,224.1 202.3,223.1 202.7,222.6 203.0,223.1 203.4,223.6 203.8,223.6 204.2,222.4 204.5,223.5 204.9,224.6 205.3,222.8 205.7,223.3 206.0,222.8 206.4,223.6 206.8,222.4 207.2,222.8 207.5,223.3 207.9,223.1 208.3,224.1 208.7,223.1 209.0,223.2 209.4,224.1 209.8,222.9 210.2,223.2 210.5,223.3 210.9,223.3 211.3,223.5 211.7,223.3 212.0,223.1 212.4,222.9 212.8,224.7 213.2,223.6 213.5,222.1 213.9,223.6 214.3,223.0 214.7,223.5 215.0,223.1 215.4,223.6 215.8,223.7 216.2,223.9 216.5,223.1 216.9,223.6 217.3,223.1 217.7,223.6 218.0,223.6 218.4,223.2 218.8,223.9 219.2,223.2 219.5,223.0 219.9,222.5 220.3,222.8 220.7,222.8 221.0,221.9 221.4,223.7 221.8,223.3 222.2,222.7 222.5,224.3 222.9,223.2 223.3,223.1 223.7,222.7 224.0,223.5 224.4,223.2 224.8,223.5 225.2,223.7 225.5,224.1 225.9,222.8 226.3,222.3 226.7,223.5 227.0,223.6 227.4,223.3 227.8,223.1 228.2,223.0 228.5,223.2 228.9,223.9 229.3,223.3 229.7,223.3 230.0,223.6 230.4,222.7 230.8,223.4 231.2,222.9 231.5,223.2 231.9,223.2 232.3,222.9 232.7,223.1 233.0,224.0 233.4,223.2 233.8,223.3 234.2,223.5 234.5,222.9 234.9,223.1 235.3,222.9 235.7,222.5 236.0,223.1 236.4,223.1 236.8,222.8 237.2,222.8 237.5,223.5 237.9,221.9 238.3,222.7 238.7,222.0 239.0,222.2 239.4,221.7 239.8,221.5 240.2,221.5 240.5,221.1 240.9,221.1 241.3,220.7 241.7,220.0 242.0,220.3 242.4,220.5 242.8,219.7 243.2,220.3 243.5,220.6 243.9,220.8 244.3,220.8 244.7,221.1 245.0,222.3 245.4,222.1 245.8,222.4 246.2,222.4 246.5,222.0 246.9,222.7 247.3,222.5 247.7,222.7 248.0,222.9 248.4,222.0 248.8,222.7 249.2,222.6 249.5,222.9 249.9,223.0 250.3,222.3 250.7,223.3 251.0,223.3 251.4,223.0 251.8,223.7 252.2,224.0 252.5,222.7 252.9,223.8 253.3,223.3 253.7,222.9"/>
<polyline fill="none" stroke="#26A69A" stroke-width="1.1" stroke-linejoin="round" points="91.3,207.8 91.7,208.1 92.0,207.3 92.4,207.0 92.8,207.2 93.2,206.5 93.5,205.8 93.9,204.8 94.3,205.6 94.7,205.7 95.0,204.6 95.4,204.3 95.8,201.4 96.2,203.2 96.5,201.5 96.9,203.9 97.3,202.6 97.7,202.3 98.0,201.1 98.4,201.6 98.8,201.2 99.2,199.1 99.5,198.3 99.9,199.0 100.3,197.9 100.7,197.8 101.0,197.9 101.4,196.8 101.8,199.5 102.2,194.6 102.5,199.0 102.9,196.6 103.3,196.1 103.7,194.8 104.0,197.3 104.4,196.9 104.8,197.8 105.2,195.9 105.5,197.4 105.9,200.7 106.3,198.2 106.7,196.2 107.0,199.1 107.4,197.4 107.8,198.5 108.2,198.3 108.5,196.3 108.9,193.3 109.3,196.4 109.7,198.7 110.0,196.6 110.4,198.1 110.8,199.1 111.2,196.0 111.5,199.8 111.9,201.0 112.3,199.9 112.7,199.9 113.0,199.9 113.4,201.7 113.8,198.4 114.2,198.0 114.5,199.6 114.9,196.5 115.3,195.4 115.7,196.9 116.0,199.1 116.4,199.9 116.8,196.3 117.2,195.9 117.5,198.8 117.9,199.0 118.3,199.6 118.7,200.9 119.0,202.3 119.4,200.4 119.8,201.3 120.2,198.6 120.5,198.7 120.9,201.0 121.3,202.2 121.7,202.2 122.0,202.4 122.4,202.5 122.8,202.7 123.2,199.0 123.5,201.3 123.9,203.3 124.3,203.1 124.7,201.0 125.0,204.4 125.4,202.2 125.8,203.0 126.2,203.3 126.5,204.2 126.9,202.3 127.3,204.9 127.7,203.7 128.0,203.6 128.4,203.7 128.8,202.2 129.2,203.8 129.5,204.8 129.9,204.0 130.3,204.3 130.7,205.4 131.0,205.0 131.4,206.0 131.8,204.9 132.2,205.4 132.5,206.5 132.9,207.8 133.3,206.4 133.7,206.8 134.0,205.1 134.4,207.2 134.8,207.2 135.2,207.4 135.5,206.6 135.9,205.7 136.3,207.3 136.7,207.8 137.0,206.3 137.4,206.1 137.8,206.7 138.2,207.3 138.5,208.8 138.9,207.2 139.3,207.0 139.7,207.0 140.0,206.1 140.4,207.0 140.8,208.4 141.2,207.2 141.5,207.2 141.9,206.7 142.3,208.1 142.7,207.9 143.0,207.5 143.4,207.5 143.8,207.8 144.2,208.3 144.5,207.3 144.9,207.8 145.3,206.8 145.7,207.1 146.0,207.8 146.4,207.9 146.8,207.1 147.2,208.1 147.5,208.4 147.9,207.9 148.3,207.9 148.7,208.4 149.0,207.8 149.4,207.2 149.8,207.8 150.2,208.6 150.5,207.6 150.9,207.7 151.3,207.9 151.7,207.8 152.0,207.9 152.4,208.0 152.8,208.0 153.2,207.8 153.5,207.5 153.9,208.2 154.3,208.1 154.7,208.6 155.0,208.6 155.4,208.7 155.8,208.5 156.2,208.6 156.5,207.6 156.9,207.8 157.3,207.8 157.7,207.0 158.0,207.0 158.4,209.2 158.8,208.0 159.2,206.5 159.5,207.9 159.9,208.9 160.3,207.9 160.7,208.2 161.0,207.7 161.4,208.1 161.8,208.2 162.2,208.1 162.5,207.1 162.9,208.1 163.3,208.2 163.7,207.0 164.0,207.4 164.4,207.6 164.8,206.8 165.2,207.5 165.5,206.4 165.9,206.9 166.3,206.7 166.7,206.2 167.0,207.7 167.4,206.3 167.8,206.9 168.2,206.5 168.5,206.9 168.9,206.7 169.3,206.8 169.7,207.1 170.0,206.7 170.4,207.1 170.8,206.4 171.2,206.4 171.5,207.2 171.9,207.0 172.3,206.7 172.7,206.5 173.0,206.6 173.4,207.4 173.8,207.4 174.2,208.0 174.5,207.2 174.9,207.0 175.3,206.6 175.7,207.4 176.0,207.4 176.4,208.3 176.8,207.7 177.2,207.2 177.5,208.9 177.9,206.7 178.3,208.0 178.7,208.1 179.0,207.7 179.4,207.4 179.8,207.6 180.2,208.0 180.5,208.8 180.9,206.9 181.3,207.3 181.7,207.9 182.0,207.7 182.4,207.1 182.8,207.8 183.2,207.8 183.5,207.9 183.9,208.6 184.3,208.1 184.7,207.3 185.0,208.0 185.4,207.6 185.8,208.3 186.2,208.7 186.5,208.2 186.9,208.9 187.3,208.6 187.7,208.7 188.0,208.0 188.4,208.1 188.8,207.6 189.2,208.9 189.5,208.2 189.9,208.7 190.3,208.3 190.7,206.8 191.0,208.0 191.4,208.6 191.8,208.9 192.2,208.0 192.5,207.5 192.9,208.4 193.3,207.9 193.7,208.0 194.0,207.4 194.4,209.0 194.8,207.8 195.2,207.6 195.5,207.6 195.9,207.8 196.3,208.2 196.7,208.9 197.0,208.3 197.4,208.0 197.8,207.8 198.2,207.7 198.5,207.5 198.9,208.6 199.3,207.7 199.7,208.8 200.0,208.0 200.4,207.9 200.8,207.7 201.2,207.3 201.5,207.6 201.9,208.0 202.3,207.9 202.7,207.8 203.0,208.0 203.4,207.6 203.8,207.8 204.2,207.6 204.5,207.4 204.9,207.9 205.3,208.0 205.7,207.9 206.0,208.1 206.4,207.5 206.8,208.6 207.2,207.6 207.5,207.8 207.9,207.8 208.3,207.7 208.7,206.6 209.0,207.2 209.4,206.9 209.8,206.7 210.2,207.9 210.5,207.8 210.9,208.4 211.3,207.6 211.7,207.5 212.0,207.5 212.4,207.9 212.8,207.3 213.2,208.2 213.5,206.9 213.9,207.6 214.3,207.5 214.7,207.9 215.0,208.3 215.4,207.0 215.8,208.0 216.2,207.9 216.5,207.7 216.9,207.3 217.3,207.6 217.7,207.6 218.0,207.8 218.4,207.4 218.8,207.7 219.2,207.1 219.5,207.5 219.9,207.9 220.3,208.4 220.7,207.7 221.0,207.7 221.4,207.9 221.8,207.5 222.2,207.5 222.5,208.0 222.9,207.7 223.3,208.2 223.7,207.3 224.0,208.3 224.4,208.1 224.8,208.4 225.2,208.0 225.5,208.1 225.9,208.2 226.3,207.1 226.7,208.6 227.0,207.9 227.4,207.8 227.8,207.6 228.2,207.9 228.5,207.9 228.9,208.1 229.3,208.2 229.7,207.8 230.0,208.3 230.4,208.1 230.8,208.0 231.2,208.8 231.5,208.4 231.9,207.8 232.3,208.3 232.7,207.7 233.0,208.5 233.4,208.1 233.8,208.1 234.2,207.7 234.5,208.1 234.9,208.0 235.3,207.9 235.7,208.3 236.0,207.9 236.4,208.2 236.8,208.0 237.2,208.0 237.5,207.9 237.9,207.6 238.3,208.2 238.7,207.8 239.0,208.3 239.4,208.2 239.8,208.0 240.2,208.3 240.5,208.1 240.9,208.0 241.3,207.9 241.7,208.5 242.0,208.1 242.4,209.0 242.8,208.4 243.2,208.2 243.5,207.8 243.9,208.0 244.3,207.5 244.7,208.2 245.0,208.2 245.4,208.5 245.8,207.9 246.2,208.3 246.5,208.1 246.9,208.2 247.3,208.5 247.7,208.3 248.0,208.3 248.4,208.1 248.8,208.2 249.2,208.3 249.5,207.7 249.9,208.2 250.3,208.1 250.7,207.5 251.0,207.6 251.4,208.7 251.8,208.1 252.2,208.6 252.5,208.1 252.9,208.4 253.3,208.4 253.7,207.9"/>
<polyline fill="none" stroke="#FF9A16" stroke-width="1.1" stroke-linejoin="round" points="91.3,181.7 91.7,179.7 92.0,181.2 92.4,180.5 92.8,181.0 93.2,179.8 93.5,180.8 93.9,178.9 94.3,178.5 94.7,178.8 95.0,178.0 95.4,176.8 95.8,176.7 96.2,177.3 96.5,177.2 96.9,175.0 97.3,174.6 97.7,172.7 98.0,177.6 98.4,174.6 98.8,176.1 99.2,174.6 99.5,176.9 99.9,175.8 100.3,173.8 100.7,175.6 101.0,171.2 101.4,174.9 101.8,170.1 102.2,173.4 102.5,174.2 102.9,173.0 103.3,171.6 103.7,170.8 104.0,171.5 104.4,175.3 104.8,174.3 105.2,172.2 105.5,170.3 105.9,173.5 106.3,169.7 106.7,171.4 107.0,171.1 107.4,173.8 107.8,173.1 108.2,172.4 108.5,172.7 108.9,171.2 109.3,173.2 109.7,174.8 110.0,172.7 110.4,173.6 110.8,172.6 111.2,174.3 111.5,173.8 111.9,173.9 112.3,172.8 112.7,175.5 113.0,172.2 113.4,172.3 113.8,171.7 114.2,174.3 114.5,172.2 114.9,172.3 115.3,174.5 115.7,176.0 116.0,175.1 116.4,169.7 116.8,172.5 117.2,172.6 117.5,172.9 117.9,174.6 118.3,177.5 118.7,174.3 119.0,173.5 119.4,177.0 119.8,175.2 120.2,176.0 120.5,174.9 120.9,176.3 121.3,176.5 121.7,173.3 122.0,174.3 122.4,178.2 122.8,178.3 123.2,175.9 123.5,175.8 123.9,177.1 124.3,175.7 124.7,177.3 125.0,180.2 125.4,178.2 125.8,179.3 126.2,178.2 126.5,179.2 126.9,180.5 127.3,177.5 127.7,178.2 128.0,179.1 128.4,179.8 128.8,181.2 129.2,180.4 129.5,177.9 129.9,179.9 130.3,179.0 130.7,178.9 131.0,182.5 131.4,179.3 131.8,181.0 132.2,179.7 132.5,181.5 132.9,181.3 133.3,181.6 133.7,181.1 134.0,182.0 134.4,180.3 134.8,180.4 135.2,179.8 135.5,182.6 135.9,181.1 136.3,180.7 136.7,181.6 137.0,184.4 137.4,181.9 137.8,182.6 138.2,182.4 138.5,182.0 138.9,181.8 139.3,181.6 139.7,181.7 140.0,180.6 140.4,184.7 140.8,183.0 141.2,182.4 141.5,182.2 141.9,181.7 142.3,183.4 142.7,182.3 143.0,182.8 143.4,181.2 143.8,182.4 144.2,184.1 144.5,182.6 144.9,183.3 145.3,182.4 145.7,183.4 146.0,183.3 146.4,182.7 146.8,182.7 147.2,183.3 147.5,183.0 147.9,182.3 148.3,183.0 148.7,182.7 149.0,182.0 149.4,182.5 149.8,185.3 150.2,183.4 150.5,182.6 150.9,184.9 151.3,183.1 151.7,180.5 152.0,181.5 152.4,181.6 152.8,182.9 153.2,183.3 153.5,181.0 153.9,183.7 154.3,181.9 154.7,183.1 155.0,183.2 155.4,182.9 155.8,182.8 156.2,182.7 156.5,181.5 156.9,183.1 157.3,183.3 157.7,183.1 158.0,184.8 158.4,183.0 158.8,183.2 159.2,184.1 159.5,182.7 159.9,181.6 160.3,181.4 160.7,183.9 161.0,183.2 161.4,183.3 161.8,182.1 162.2,182.7 162.5,183.7 162.9,182.6 163.3,181.6 163.7,181.8 164.0,183.7 164.4,181.2 164.8,180.5 165.2,180.9 165.5,181.3 165.9,182.6 166.3,182.3 166.7,182.2 167.0,181.6 167.4,182.1 167.8,182.3 168.2,181.9 168.5,181.7 168.9,182.0 169.3,183.6 169.7,181.4 170.0,182.5 170.4,181.6 170.8,183.1 171.2,182.3 171.5,182.9 171.9,183.1 172.3,182.7 172.7,183.0 173.0,181.9 173.4,182.9 173.8,182.6 174.2,182.7 174.5,183.3 174.9,182.6 175.3,183.1 175.7,181.9 176.0,182.2 176.4,182.9 176.8,182.1 177.2,182.8 177.5,183.7 177.9,182.8 178.3,182.7 178.7,182.5 179.0,183.0 179.4,182.3 179.8,182.9 180.2,182.8 180.5,182.4 180.9,183.1 181.3,182.6 181.7,182.9 182.0,182.7 182.4,182.5 182.8,182.8 183.2,182.8 183.5,183.1 183.9,183.2 184.3,182.8 184.7,182.9 185.0,182.4 185.4,182.8 185.8,182.7 186.2,182.0 186.5,182.8 186.9,182.3 187.3,182.8 187.7,182.9 188.0,182.8 188.4,183.0 188.8,183.2 189.2,182.3 189.5,182.1 189.9,183.2 190.3,183.5 190.7,182.7 191.0,182.4 191.4,183.2 191.8,181.9 192.2,182.9 192.5,182.6 192.9,182.8 193.3,182.0 193.7,182.3 194.0,183.0 194.4,182.5 194.8,182.5 195.2,182.5 195.5,182.9 195.9,182.8 196.3,182.5 196.7,183.1 197.0,182.7 197.4,182.3 197.8,182.8 198.2,182.4 198.5,182.8 198.9,182.4 199.3,182.1 199.7,183.0 200.0,182.9 200.4,182.7 200.8,182.8 201.2,183.0 201.5,183.4 201.9,183.2 202.3,183.3 202.7,182.6 203.0,183.0 203.4,182.3 203.8,182.6 204.2,182.3 204.5,182.8 204.9,183.1 205.3,183.0 205.7,182.2 206.0,183.1 206.4,182.5 206.8,182.6 207.2,183.2 207.5,182.8 207.9,182.8 208.3,183.4 208.7,182.4 209.0,183.0 209.4,182.9 209.8,182.9 210.2,183.3 210.5,182.4 210.9,182.4 211.3,182.6 211.7,183.3 212.0,182.9 212.4,182.7 212.8,183.0 213.2,182.0 213.5,183.2 213.9,182.9 214.3,182.9 214.7,182.1 215.0,182.4 215.4,182.5 215.8,182.3 216.2,183.0 216.5,182.9 216.9,182.5 217.3,183.2 217.7,182.8 218.0,182.9 218.4,183.0 218.8,182.7 219.2,182.2 219.5,182.5 219.9,183.1 220.3,182.8 220.7,182.8 221.0,183.4 221.4,183.2 221.8,183.6 222.2,182.9 222.5,182.9 222.9,182.9 223.3,183.2 223.7,183.1 224.0,183.0 224.4,182.7 224.8,183.1 225.2,182.5 225.5,182.5 225.9,183.5 226.3,183.0 226.7,183.3 227.0,182.6 227.4,182.4 227.8,182.6 228.2,183.0 228.5,183.1 228.9,183.0 229.3,182.4 229.7,181.9 230.0,183.3 230.4,183.1 230.8,183.3 231.2,182.2 231.5,182.9 231.9,182.6 232.3,182.7 232.7,182.5 233.0,182.8 233.4,182.1 233.8,182.6 234.2,182.9 234.5,183.5 234.9,183.6 235.3,182.6 235.7,182.5 236.0,182.8 236.4,183.1 236.8,182.8 237.2,182.8 237.5,182.8 237.9,182.2 238.3,182.8 238.7,182.3 239.0,182.9 239.4,182.3 239.8,183.6 240.2,182.9 240.5,182.2 240.9,182.5 241.3,182.9 241.7,182.7 242.0,183.3 242.4,183.1 242.8,183.1 243.2,183.3 243.5,182.4 243.9,182.8 244.3,182.3 244.7,182.7 245.0,183.0 245.4,182.4 245.8,182.7 246.2,182.5 246.5,183.1 246.9,182.6 247.3,182.6 247.7,182.9 248.0,182.5 248.4,183.2 248.8,182.1 249.2,183.0 249.5,182.5 249.9,182.9 250.3,182.9 250.7,183.1 251.0,182.7 251.4,183.0 251.8,183.0 252.2,183.3 252.5,183.0 252.9,183.2 253.3,183.0 253.7,182.8"/>
<polyline fill="none" stroke="#A85A0A" stroke-width="1.1" stroke-linejoin="round" points="91.3,155.3 91.7,152.5 92.0,151.5 92.4,148.6 92.8,153.2 93.2,155.9 93.5,153.6 93.9,154.5 94.3,155.3 94.7,151.5 95.0,158.8 95.4,151.1 95.8,154.4 96.2,159.1 96.5,153.1 96.9,153.1 97.3,151.6 97.7,153.3 98.0,147.7 98.4,151.6 98.8,156.7 99.2,152.7 99.5,152.5 99.9,153.3 100.3,153.5 100.7,153.0 101.0,153.5 101.4,149.0 101.8,154.4 102.2,150.9 102.5,154.6 102.9,152.5 103.3,150.0 103.7,152.4 104.0,149.8 104.4,155.0 104.8,152.4 105.2,155.2 105.5,149.5 105.9,156.9 106.3,152.0 106.7,156.0 107.0,154.5 107.4,150.3 107.8,153.7 108.2,151.2 108.5,153.5 108.9,156.2 109.3,154.7 109.7,155.0 110.0,149.7 110.4,153.4 110.8,153.1 111.2,155.3 111.5,151.4 111.9,153.9 112.3,153.7 112.7,148.5 113.0,150.2 113.4,153.5 113.8,149.7 114.2,149.8 114.5,154.8 114.9,153.7 115.3,152.4 115.7,153.2 116.0,152.2 116.4,151.7 116.8,151.4 117.2,154.2 117.5,156.4 117.9,152.0 118.3,152.9 118.7,153.2 119.0,150.6 119.4,154.0 119.8,155.4 120.2,152.6 120.5,155.4 120.9,152.3 121.3,156.3 121.7,156.3 122.0,153.3 122.4,151.1 122.8,154.0 123.2,152.8 123.5,152.8 123.9,155.0 124.3,157.5 124.7,155.3 125.0,155.4 125.4,153.7 125.8,155.2 126.2,153.9 126.5,156.6 126.9,155.6 127.3,156.5 127.7,156.3 128.0,156.5 128.4,157.3 128.8,157.0 129.2,156.4 129.5,156.9 129.9,157.2 130.3,157.9 130.7,156.8 131.0,157.6 131.4,156.6 131.8,156.9 132.2,156.0 132.5,157.6 132.9,156.5 133.3,156.9 133.7,157.2 134.0,157.3 134.4,156.1 134.8,157.2 135.2,157.0 135.5,157.4 135.9,156.8 136.3,157.4 136.7,157.3 137.0,156.8 137.4,158.0 137.8,156.9 138.2,157.1 138.5,157.2 138.9,157.5 139.3,157.2 139.7,156.3 140.0,157.2 140.4,158.1 140.8,157.2 141.2,156.6 141.5,157.3 141.9,157.6 142.3,156.7 142.7,156.5 143.0,155.8 143.4,156.9 143.8,157.4 144.2,157.2 144.5,157.0 144.9,157.6 145.3,156.1 145.7,157.3 146.0,156.0 146.4,156.4 146.8,157.5 147.2,156.9 147.5,155.4 147.9,157.0 148.3,156.7 148.7,156.1 149.0,156.5 149.4,156.5 149.8,157.6 150.2,155.3 150.5,156.3 150.9,156.3 151.3,155.3 151.7,156.9 152.0,157.4 152.4,156.2 152.8,156.4 153.2,155.9 153.5,155.6 153.9,155.8 154.3,156.4 154.7,155.4 155.0,156.9 155.4,156.0 155.8,157.3 156.2,154.5 156.5,156.4 156.9,155.3 157.3,156.1 157.7,156.6 158.0,155.8 158.4,155.3 158.8,155.2 159.2,156.9 159.5,156.6 159.9,157.0 160.3,156.1 160.7,155.7 161.0,155.5 161.4,155.1 161.8,155.6 162.2,156.9 162.5,156.5 162.9,156.6 163.3,156.4 163.7,157.2 164.0,157.5 164.4,155.8 164.8,156.7 165.2,155.9 165.5,157.8 165.9,157.5 166.3,156.6 166.7,158.8 167.0,156.9 167.4,156.0 167.8,155.6 168.2,157.0 168.5,157.1 168.9,157.0 169.3,157.3 169.7,157.7 170.0,156.8 170.4,157.6 170.8,158.3 171.2,157.6 171.5,156.7 171.9,157.2 172.3,157.4 172.7,158.0 173.0,157.0 173.4,156.2 173.8,157.2 174.2,157.5 174.5,156.5 174.9,157.9 175.3,157.3 175.7,157.8 176.0,157.1 176.4,156.4 176.8,157.2 177.2,156.6 177.5,157.9 177.9,157.5 178.3,157.0 178.7,158.5 179.0,157.7 179.4,157.7 179.8,158.3 180.2,157.0 180.5,157.0 180.9,157.2 181.3,156.1 181.7,157.2 182.0,157.4 182.4,157.0 182.8,156.7 183.2,158.4 183.5,156.3 183.9,157.2 184.3,157.4 184.7,157.9 185.0,155.8 185.4,157.0 185.8,156.6 186.2,158.1 186.5,157.7 186.9,157.3 187.3,157.4 187.7,158.5 188.0,157.6 188.4,157.1 188.8,155.9 189.2,157.2 189.5,155.6 189.9,157.3 190.3,156.9 190.7,155.9 191.0,156.0 191.4,157.0 191.8,156.7 192.2,156.4 192.5,156.4 192.9,156.4 193.3,156.1 193.7,156.1 194.0,156.8 194.4,157.6 194.8,156.9 195.2,156.1 195.5,157.1 195.9,157.1 196.3,156.3 196.7,157.0 197.0,156.0 197.4,155.6 197.8,155.5 198.2,157.3 198.5,156.7 198.9,156.4 199.3,155.9 199.7,155.8 200.0,156.5 200.4,157.0 200.8,157.8 201.2,155.5 201.5,157.0 201.9,156.7 202.3,155.2 202.7,156.7 203.0,157.6 203.4,156.9 203.8,156.6 204.2,156.5 204.5,155.3 204.9,156.6 205.3,156.6 205.7,156.2 206.0,156.7 206.4,156.5 206.8,157.7 207.2,155.8 207.5,155.8 207.9,155.0 208.3,156.4 208.7,157.2 209.0,156.8 209.4,156.6 209.8,156.8 210.2,157.0 210.5,157.2 210.9,156.8 211.3,156.0 211.7,156.6 212.0,156.5 212.4,157.2 212.8,156.5 213.2,156.6 213.5,156.9 213.9,156.0 214.3,156.2 214.7,157.3 215.0,156.5 215.4,157.3 215.8,156.4 216.2,156.6 216.5,157.0 216.9,157.7 217.3,157.1 217.7,157.0 218.0,157.3 218.4,156.4 218.8,156.2 219.2,158.0 219.5,157.7 219.9,157.3 220.3,157.1 220.7,157.2 221.0,157.8 221.4,156.9 221.8,156.5 222.2,156.3 222.5,157.1 222.9,157.7 223.3,157.7 223.7,156.8 224.0,156.9 224.4,157.7 224.8,158.0 225.2,156.9 225.5,157.4 225.9,157.0 226.3,156.5 226.7,156.8 227.0,156.4 227.4,156.8 227.8,155.9 228.2,156.8 228.5,157.4 228.9,156.5 229.3,157.7 229.7,157.2 230.0,156.9 230.4,157.7 230.8,157.0 231.2,157.0 231.5,157.9 231.9,156.9 232.3,156.0 232.7,156.2 233.0,156.6 233.4,157.0 233.8,156.2 234.2,157.5 234.5,157.2 234.9,156.8 235.3,156.7 235.7,156.5 236.0,156.3 236.4,157.3 236.8,156.0 237.2,156.0 237.5,156.3 237.9,154.6 238.3,155.3 238.7,154.4 239.0,153.5 239.4,150.9 239.8,147.7 240.2,142.4 240.5,137.0 240.9,129.7 241.3,126.5 241.7,129.4 242.0,136.5 242.4,142.9 242.8,148.1 243.2,151.4 243.5,153.5 243.9,154.1 244.3,154.6 244.7,155.5 245.0,155.1 245.4,155.5 245.8,156.0 246.2,156.2 246.5,156.4 246.9,156.6 247.3,156.7 247.7,156.5 248.0,158.1 248.4,156.2 248.8,156.9 249.2,156.8 249.5,156.9 249.9,156.6 250.3,156.8 250.7,157.3 251.0,157.0 251.4,156.5 251.8,156.7 252.2,157.1 252.5,156.8 252.9,157.1 253.3,157.2 253.7,156.4"/>
<polyline fill="none" stroke="#FF1A1A" stroke-width="1.1" stroke-linejoin="round" points="91.3,111.3 91.7,112.2 92.0,114.5 92.4,112.5 92.8,114.2 93.2,114.7 93.5,110.3 93.9,114.9 94.3,111.6 94.7,116.9 95.0,114.3 95.4,112.0 95.8,112.9 96.2,113.2 96.5,113.2 96.9,115.3 97.3,113.3 97.7,116.1 98.0,113.5 98.4,112.2 98.8,109.0 99.2,109.4 99.5,112.6 99.9,114.2 100.3,115.9 100.7,108.3 101.0,112.4 101.4,110.7 101.8,111.5 102.2,107.3 102.5,114.3 102.9,110.8 103.3,112.3 103.7,113.7 104.0,113.1 104.4,101.4 104.8,115.8 105.2,114.0 105.5,113.0 105.9,110.8 106.3,108.8 106.7,108.5 107.0,111.5 107.4,109.9 107.8,110.8 108.2,116.7 108.5,113.3 108.9,115.1 109.3,114.7 109.7,110.6 110.0,115.2 110.4,113.7 110.8,110.5 111.2,114.8 111.5,114.8 111.9,114.9 112.3,115.4 112.7,111.1 113.0,113.0 113.4,112.4 113.8,113.6 114.2,114.3 114.5,116.1 114.9,115.4 115.3,113.3 115.7,115.9 116.0,117.4 116.4,115.1 116.8,113.2 117.2,114.9 117.5,115.2 117.9,113.8 118.3,115.6 118.7,115.2 119.0,116.8 119.4,117.1 119.8,116.0 120.2,115.4 120.5,116.8 120.9,116.1 121.3,116.0 121.7,116.7 122.0,116.3 122.4,116.0 122.8,117.2 123.2,117.2 123.5,117.2 123.9,116.9 124.3,117.4 124.7,116.6 125.0,117.3 125.4,117.4 125.8,115.8 126.2,115.9 126.5,115.5 126.9,115.4 127.3,115.9 127.7,115.2 128.0,115.4 128.4,116.6 128.8,115.9 129.2,116.2 129.5,117.1 129.9,116.6 130.3,117.1 130.7,117.6 131.0,116.5 131.4,116.3 131.8,115.6 132.2,116.5 132.5,117.4 132.9,117.1 133.3,118.0 133.7,117.6 134.0,117.1 134.4,116.6 134.8,115.8 135.2,116.7 135.5,117.3 135.9,117.1 136.3,116.5 136.7,116.4 137.0,117.1 137.4,115.7 137.8,116.6 138.2,116.9 138.5,117.5 138.9,116.7 139.3,116.4 139.7,116.3 140.0,116.0 140.4,117.6 140.8,117.6 141.2,116.7 141.5,116.5 141.9,116.0 142.3,117.5 142.7,116.8 143.0,117.3 143.4,118.0 143.8,115.5 144.2,116.4 144.5,117.1 144.9,116.8 145.3,116.2 145.7,116.7 146.0,116.3 146.4,116.4 146.8,117.5 147.2,116.5 147.5,117.6 147.9,116.7 148.3,117.8 148.7,116.5 149.0,116.6 149.4,116.1 149.8,115.8 150.2,115.8 150.5,117.2 150.9,116.9 151.3,115.7 151.7,117.6 152.0,117.7 152.4,116.8 152.8,116.4 153.2,117.0 153.5,116.4 153.9,118.8 154.3,116.5 154.7,116.2 155.0,116.4 155.4,116.3 155.8,116.1 156.2,116.6 156.5,116.0 156.9,116.2 157.3,115.9 157.7,117.1 158.0,115.8 158.4,116.1 158.8,117.3 159.2,115.4 159.5,116.9 159.9,117.6 160.3,116.7 160.7,117.2 161.0,118.1 161.4,116.6 161.8,116.4 162.2,115.2 162.5,116.9 162.9,117.0 163.3,116.3 163.7,118.4 164.0,117.4 164.4,117.3 164.8,116.0 165.2,117.2 165.5,117.3 165.9,115.2 166.3,117.1 166.7,117.0 167.0,115.3 167.4,117.2 167.8,117.8 168.2,117.3 168.5,115.8 168.9,116.5 169.3,117.4 169.7,115.5 170.0,117.1 170.4,116.5 170.8,117.1 171.2,118.4 171.5,115.6 171.9,117.6 172.3,117.0 172.7,116.2 173.0,115.3 173.4,117.2 173.8,116.5 174.2,113.9 174.5,115.9 174.9,115.8 175.3,115.5 175.7,116.2 176.0,115.7 176.4,117.8 176.8,117.5 177.2,117.0 177.5,118.4 177.9,118.1 178.3,116.9 178.7,115.2 179.0,116.9 179.4,117.8 179.8,115.2 180.2,116.3 180.5,116.9 180.9,117.0 181.3,116.9 181.7,116.2 182.0,115.3 182.4,115.0 182.8,116.3 183.2,116.0 183.5,114.6 183.9,114.5 184.3,116.3 184.7,116.7 185.0,114.4 185.4,113.6 185.8,115.9 186.2,116.6 186.5,116.7 186.9,116.7 187.3,114.2 187.7,116.2 188.0,115.5 188.4,114.8 188.8,118.7 189.2,115.5 189.5,115.7 189.9,115.0 190.3,116.0 190.7,116.2 191.0,114.5 191.4,114.2 191.8,113.5 192.2,112.2 192.5,113.4 192.9,113.7 193.3,112.9 193.7,112.5 194.0,110.1 194.4,112.5 194.8,112.7 195.2,114.4 195.5,111.6 195.9,110.8 196.3,110.0 196.7,112.2 197.0,113.6 197.4,114.3 197.8,111.9 198.2,113.4 198.5,115.7 198.9,114.4 199.3,113.8 199.7,113.6 200.0,111.9 200.4,111.8 200.8,112.8 201.2,115.0 201.5,115.0 201.9,112.6 202.3,113.5 202.7,112.9 203.0,113.4 203.4,110.7 203.8,111.8 204.2,112.5 204.5,108.8 204.9,111.1 205.3,111.5 205.7,111.8 206.0,112.4 206.4,112.1 206.8,113.7 207.2,114.0 207.5,113.3 207.9,116.1 208.3,112.5 208.7,113.5 209.0,114.3 209.4,113.5 209.8,112.4 210.2,113.7 210.5,116.5 210.9,114.4 211.3,113.7 211.7,118.0 212.0,116.0 212.4,116.2 212.8,114.5 213.2,116.4 213.5,115.0 213.9,116.4 214.3,115.8 214.7,115.6 215.0,116.6 215.4,115.4 215.8,115.6 216.2,115.2 216.5,116.8 216.9,116.5 217.3,116.9 217.7,114.3 218.0,117.7 218.4,116.0 218.8,116.1 219.2,115.9 219.5,116.2 219.9,117.3 220.3,116.2 220.7,116.8 221.0,116.8 221.4,117.2 221.8,115.9 222.2,115.2 222.5,114.7 222.9,114.4 223.3,116.3 223.7,116.0 224.0,116.0 224.4,115.9 224.8,116.4 225.2,116.7 225.5,117.0 225.9,115.0 226.3,116.0 226.7,116.1 227.0,114.6 227.4,114.9 227.8,114.8 228.2,113.5 228.5,114.2 228.9,112.9 229.3,113.5 229.7,112.5 230.0,112.5 230.4,112.5 230.8,111.4 231.2,110.3 231.5,110.6 231.9,110.3 232.3,109.9 232.7,108.0 233.0,108.3 233.4,107.0 233.8,107.0 234.2,107.1 234.5,106.0 234.9,105.2 235.3,104.6 235.7,102.1 236.0,101.5 236.4,99.1 236.8,96.2 237.2,92.9 237.5,87.1 237.9,82.3 238.3,74.6 238.7,65.7 239.0,56.5 239.4,48.4 239.8,40.8 240.2,35.7 240.5,32.3 240.9,32.9 241.3,38.4 241.7,44.7 242.0,52.5 242.4,62.6 242.8,70.5 243.2,77.8 243.5,85.6 243.9,91.6 244.3,96.7 244.7,99.6 245.0,103.2 245.4,106.4 245.8,107.5 246.2,108.8 246.5,109.6 246.9,110.3 247.3,111.3 247.7,111.5 248.0,112.8 248.4,113.6 248.8,113.7 249.2,113.6 249.5,114.1 249.9,114.5 250.3,115.4 250.7,115.0 251.0,115.0 251.4,115.5 251.8,115.7 252.2,115.5 252.5,115.6 252.9,115.0 253.3,115.9 253.7,116.7"/>
</g>
<rect x="91.6" y="25.1" width="162.2" height="210.7" fill="none" stroke="#000" stroke-width="1.15"/>
<path d="M91.30,235.8V232.80 M103.80,235.8V234.20 M116.30,235.8V232.80 M128.80,235.8V234.20 M141.30,235.8V232.80 M153.80,235.8V234.20 M166.30,235.8V232.80 M178.80,235.8V234.20 M191.30,235.8V232.80 M203.80,235.8V234.20 M216.30,235.8V232.80 M228.80,235.8V234.20 M241.30,235.8V232.80 M253.80,235.8V234.20" stroke="#000" stroke-width="1" fill="none"/>
<text x="91.30" y="243.9" font-size="6.2" text-anchor="middle">8</text>
<text x="116.30" y="243.9" font-size="6.2" text-anchor="middle">10</text>
<text x="141.30" y="243.9" font-size="6.2" text-anchor="middle">12</text>
<text x="166.30" y="243.9" font-size="6.2" text-anchor="middle">14</text>
<text x="191.30" y="243.9" font-size="6.2" text-anchor="middle">16</text>
<text x="216.30" y="243.9" font-size="6.2" text-anchor="middle">18</text>
<text x="241.30" y="243.9" font-size="6.2" text-anchor="middle">20</text>
<text x="170.6" y="260.4" font-size="9.9" text-anchor="middle">2 Theta (deg.)</text>
<text transform="translate(80.8,130.3) rotate(-90)" font-size="9.9" text-anchor="middle">Intensity (a.u.)</text>
<text transform="translate(109.4,95.8) rotate(-90)" font-size="12.4" text-anchor="start">LDH (003)</text>
<text transform="translate(228.3,89.6) rotate(-90)" font-size="12.4" text-anchor="start">LDH (006)</text>
</svg></body></html>
